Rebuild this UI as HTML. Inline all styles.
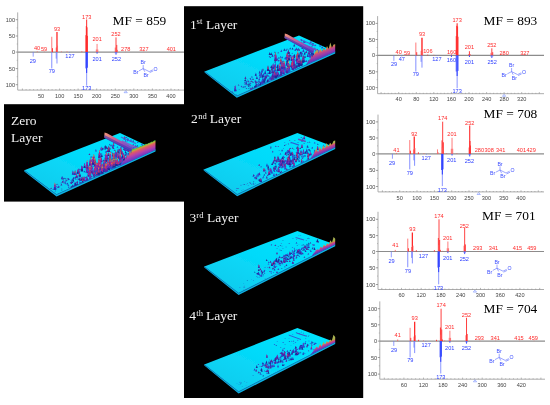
<!DOCTYPE html>
<html><head><meta charset="utf-8"><title>Layer spectra</title>
<style>
html,body{margin:0;padding:0;background:#fff;}
body{width:550px;height:405px;overflow:hidden;}
svg{display:block;}
.ser{font-family:"Liberation Serif",serif;}
.sans{font-family:"Liberation Sans",sans-serif;}
</style></head><body>
<svg width="550" height="405" viewBox="0 0 550 405">
<defs>
<linearGradient id="cy" x1="0" y1="1" x2="1" y2="0">
<stop offset="0" stop-color="#14c8ea"/><stop offset="0.5" stop-color="#04dafa"/><stop offset="1" stop-color="#00e6ff"/>
</linearGradient>
<linearGradient id="wall" x1="0" y1="0" x2="0" y2="1">
<stop offset="0" stop-color="#58c040"/><stop offset="0.3" stop-color="#e0604a"/><stop offset="0.65" stop-color="#b040b0"/><stop offset="1" stop-color="#5a38c8"/>
</linearGradient>
<linearGradient id="ridge" x1="0" y1="0" x2="0" y2="1">
<stop offset="0" stop-color="#e88a78"/><stop offset="0.4" stop-color="#b050a8"/><stop offset="1" stop-color="#5040c8"/>
</linearGradient>
<filter id="bl" x="-5%" y="-5%" width="110%" height="110%"><feGaussianBlur stdDeviation="0.55"/></filter>
<filter id="bl2" x="-5%" y="-5%" width="110%" height="110%"><feGaussianBlur stdDeviation="0.35"/></filter>
</defs>
<rect x="0" y="0" width="550" height="405" fill="#fff"/>

<rect x="184" y="6.2" width="179.2" height="391.8" fill="#000"/>
<rect x="4" y="104.2" width="181" height="97.4" fill="#000"/>
<g filter="url(#bl2)">
<path d="M17.7 12.4V90.1H184" fill="none" stroke="#a4a4a4" stroke-width="0.9"/>
<path d="M17.7 52.1H184" stroke="#8c8c8c" stroke-width="1.1"/>
<path d="M15.7 19.7H17.7" stroke="#777" stroke-width="0.7"/>
<path d="M15.7 36H17.7" stroke="#777" stroke-width="0.7"/>
<path d="M15.7 52.1H17.7" stroke="#777" stroke-width="0.7"/>
<path d="M15.7 68.6H17.7" stroke="#777" stroke-width="0.7"/>
<path d="M15.7 84.7H17.7" stroke="#777" stroke-width="0.7"/>
<path d="M16.7 27.9H17.7" stroke="#999" stroke-width="0.6"/>
<path d="M16.7 44.0H17.7" stroke="#999" stroke-width="0.6"/>
<path d="M16.7 60.3H17.7" stroke="#999" stroke-width="0.6"/>
<path d="M16.7 76.7H17.7" stroke="#999" stroke-width="0.6"/>
<path d="M22.4 90.1v-1.6" stroke="#888" stroke-width="0.6"/>
<path d="M26.1 90.1v-0.9" stroke="#888" stroke-width="0.6"/>
<path d="M29.9 90.1v-0.9" stroke="#888" stroke-width="0.6"/>
<path d="M33.6 90.1v-0.9" stroke="#888" stroke-width="0.6"/>
<path d="M37.3 90.1v-0.9" stroke="#888" stroke-width="0.6"/>
<path d="M41.0 90.1v-1.6" stroke="#888" stroke-width="0.6"/>
<path d="M44.7 90.1v-0.9" stroke="#888" stroke-width="0.6"/>
<path d="M48.4 90.1v-0.9" stroke="#888" stroke-width="0.6"/>
<path d="M52.1 90.1v-0.9" stroke="#888" stroke-width="0.6"/>
<path d="M55.9 90.1v-0.9" stroke="#888" stroke-width="0.6"/>
<path d="M59.6 90.1v-1.6" stroke="#888" stroke-width="0.6"/>
<path d="M63.3 90.1v-0.9" stroke="#888" stroke-width="0.6"/>
<path d="M67.0 90.1v-0.9" stroke="#888" stroke-width="0.6"/>
<path d="M70.7 90.1v-0.9" stroke="#888" stroke-width="0.6"/>
<path d="M74.4 90.1v-0.9" stroke="#888" stroke-width="0.6"/>
<path d="M78.1 90.1v-1.6" stroke="#888" stroke-width="0.6"/>
<path d="M81.8 90.1v-0.9" stroke="#888" stroke-width="0.6"/>
<path d="M85.6 90.1v-0.9" stroke="#888" stroke-width="0.6"/>
<path d="M89.3 90.1v-0.9" stroke="#888" stroke-width="0.6"/>
<path d="M93.0 90.1v-0.9" stroke="#888" stroke-width="0.6"/>
<path d="M96.7 90.1v-1.6" stroke="#888" stroke-width="0.6"/>
<path d="M100.4 90.1v-0.9" stroke="#888" stroke-width="0.6"/>
<path d="M104.1 90.1v-0.9" stroke="#888" stroke-width="0.6"/>
<path d="M107.8 90.1v-0.9" stroke="#888" stroke-width="0.6"/>
<path d="M111.5 90.1v-0.9" stroke="#888" stroke-width="0.6"/>
<path d="M115.3 90.1v-1.6" stroke="#888" stroke-width="0.6"/>
<path d="M119.0 90.1v-0.9" stroke="#888" stroke-width="0.6"/>
<path d="M122.7 90.1v-0.9" stroke="#888" stroke-width="0.6"/>
<path d="M126.4 90.1v-0.9" stroke="#888" stroke-width="0.6"/>
<path d="M130.1 90.1v-0.9" stroke="#888" stroke-width="0.6"/>
<path d="M133.8 90.1v-1.6" stroke="#888" stroke-width="0.6"/>
<path d="M137.5 90.1v-0.9" stroke="#888" stroke-width="0.6"/>
<path d="M141.3 90.1v-0.9" stroke="#888" stroke-width="0.6"/>
<path d="M145.0 90.1v-0.9" stroke="#888" stroke-width="0.6"/>
<path d="M148.7 90.1v-0.9" stroke="#888" stroke-width="0.6"/>
<path d="M152.4 90.1v-1.6" stroke="#888" stroke-width="0.6"/>
<path d="M156.1 90.1v-0.9" stroke="#888" stroke-width="0.6"/>
<path d="M159.8 90.1v-0.9" stroke="#888" stroke-width="0.6"/>
<path d="M163.5 90.1v-0.9" stroke="#888" stroke-width="0.6"/>
<path d="M167.2 90.1v-0.9" stroke="#888" stroke-width="0.6"/>
<path d="M171.0 90.1v-1.6" stroke="#888" stroke-width="0.6"/>
<path d="M174.7 90.1v-0.9" stroke="#888" stroke-width="0.6"/>
<path d="M178.4 90.1v-0.9" stroke="#888" stroke-width="0.6"/>
<path d="M51.77 52.1V36.78" stroke="#ff5a5a" stroke-width="0.8"/>
<path d="M52.51 52.1V48.19" stroke="#ff2a2a" stroke-width="0.9"/>
<path d="M56.22 52.1V47.54" stroke="#ff5a5a" stroke-width="0.8"/>
<path d="M56.97 52.1V31.89" stroke="#ff2a2a" stroke-width="1.3"/>
<path d="M57.52 52.1V45.58" stroke="#ff5a5a" stroke-width="0.8"/>
<path d="M85.93 52.1V35.15" stroke="#ff2a2a" stroke-width="0.9"/>
<path d="M86.67 52.1V19.50" stroke="#ff2a2a" stroke-width="1.0"/>
<path d="M87.41 52.1V35.80" stroke="#ff2a2a" stroke-width="0.9"/>
<path d="M86.30 52.1V26.02" stroke="#ff2a2a" stroke-width="0.9"/>
<path d="M87.04 52.1V27.32" stroke="#ff2a2a" stroke-width="0.9"/>
<path d="M97.07 52.1V43.95" stroke="#ff5a5a" stroke-width="0.8"/>
<path d="M96.32 52.1V49.49" stroke="#ff5a5a" stroke-width="0.8"/>
<path d="M97.81 52.1V49.49" stroke="#ff5a5a" stroke-width="0.8"/>
<path d="M115.26 52.1V47.54" stroke="#ff5a5a" stroke-width="0.8"/>
<path d="M116.00 52.1V37.43" stroke="#ff2a2a" stroke-width="0.9"/>
<path d="M116.75 52.1V44.93" stroke="#ff2a2a" stroke-width="0.9"/>
<path d="M117.49 52.1V49.82" stroke="#ff5a5a" stroke-width="0.8"/>
<path d="M37.29 52.1V51.45" stroke="#ff5a5a" stroke-width="0.8"/>
<path d="M44.34 52.1V51.61" stroke="#ff5a5a" stroke-width="0.8"/>
<path d="M61.42 52.1V51.45" stroke="#ff5a5a" stroke-width="0.8"/>
<path d="M66.99 52.1V51.45" stroke="#ff5a5a" stroke-width="0.8"/>
<path d="M81.84 52.1V51.12" stroke="#ff5a5a" stroke-width="0.8"/>
<path d="M125.66 52.1V51.77" stroke="#ff5a5a" stroke-width="0.8"/>
<path d="M143.85 52.1V51.77" stroke="#ff5a5a" stroke-width="0.8"/>
<path d="M171.33 52.1V51.77" stroke="#ff5a5a" stroke-width="0.8"/>
<path d="M33.20 52.1V56.66" stroke="#6474ff" stroke-width="0.7"/>
<path d="M51.77 52.1V68.40" stroke="#6474ff" stroke-width="0.8"/>
<path d="M56.22 52.1V58.62" stroke="#6474ff" stroke-width="0.8"/>
<path d="M56.97 52.1V63.51" stroke="#6474ff" stroke-width="0.8"/>
<path d="M85.93 52.1V68.40" stroke="#2a3cff" stroke-width="0.9"/>
<path d="M86.67 52.1V85.68" stroke="#6474ff" stroke-width="0.75"/>
<path d="M87.41 52.1V67.75" stroke="#2a3cff" stroke-width="0.9"/>
<path d="M86.67 52.1V72.96" stroke="#2a3cff" stroke-width="1.0"/>
<path d="M69.59 52.1V52.75" stroke="#6474ff" stroke-width="0.8"/>
<path d="M97.07 52.1V53.73" stroke="#2a3cff" stroke-width="0.9"/>
<path d="M116.00 52.1V54.71" stroke="#2a3cff" stroke-width="0.9"/>
<path d="M115.26 52.1V53.40" stroke="#6474ff" stroke-width="0.8"/>
<path d="M116.75 52.1V53.40" stroke="#6474ff" stroke-width="0.8"/>
<path d="M124.1 92.69999999999999L125.7 90.69999999999999L127.3 92.69999999999999Z" fill="none" stroke="#5a78ff" stroke-width="0.5"/>
</g>
<g class="sans" font-size="5.6" text-anchor="middle" filter="url(#bl2)">
<text x="15.1" y="21.7" text-anchor="end" fill="#444">100</text>
<text x="15.1" y="38.0" text-anchor="end" fill="#444">50</text>
<text x="15.1" y="54.1" text-anchor="end" fill="#444">0</text>
<text x="15.1" y="70.6" text-anchor="end" fill="#444">50</text>
<text x="15.1" y="86.7" text-anchor="end" fill="#444">100</text>
<text x="41.0" y="98.1" fill="#444">50</text>
<text x="59.6" y="98.1" fill="#444">100</text>
<text x="78.1" y="98.1" fill="#444">150</text>
<text x="96.7" y="98.1" fill="#444">200</text>
<text x="115.3" y="98.1" fill="#444">250</text>
<text x="133.8" y="98.1" fill="#444">300</text>
<text x="152.4" y="98.1" fill="#444">350</text>
<text x="171.0" y="98.1" fill="#444">400</text>
<text x="37.1" y="50.3" fill="#ff2a2a">40</text>
<text x="44.0" y="51.0" fill="#ff2a2a">59</text>
<text x="57.0" y="30.5" fill="#ff2a2a">93</text>
<text x="86.7" y="18.5" fill="#ff2a2a">173</text>
<text x="97.1" y="41.3" fill="#ff2a2a">201</text>
<text x="116.0" y="36.4" fill="#ff2a2a">252</text>
<text x="125.7" y="51.0" fill="#ff2a2a">278</text>
<text x="143.9" y="51.0" fill="#ff2a2a">327</text>
<text x="171.3" y="51.0" fill="#ff2a2a">401</text>
<text x="32.8" y="62.7" fill="#2a3cff">29</text>
<text x="51.8" y="72.6" fill="#2a3cff">79</text>
<text x="70.0" y="58.1" fill="#2a3cff">127</text>
<text x="86.7" y="90.1" fill="#2a3cff">173</text>
<text x="97.1" y="60.5" fill="#2a3cff">201</text>
<text x="116.4" y="60.5" fill="#2a3cff">252</text>
</g>
<g filter="url(#bl2)"><path d="M143.2 68.6V65.0M143.2 68.6L139.0 70.8M143.2 68.6L144.79999999999998 71.8M143.2 68.6L149.2 71.6L152.79999999999998 69.8M149.7 72.6L153.29999999999998 70.8" fill="none" stroke="#4a5cff" stroke-width="0.55"/>
<g class="sans" font-size="5.2" fill="#3a4cff" text-anchor="middle"><text x="143.2" y="64.19999999999999">Br</text><text x="135.79999999999998" y="73.89999999999999">Br</text><text x="146.0" y="77.0">Br</text><text x="155.6" y="70.6">O</text></g></g>
<text class="ser" x="112.6" y="24.8" font-size="13.4" fill="#000">MF = 859</text>
<g filter="url(#bl2)">
<path d="M377.6 16.1V93.7H544" fill="none" stroke="#a4a4a4" stroke-width="0.9"/>
<path d="M377.6 55.4H544" stroke="#8c8c8c" stroke-width="1.1"/>
<path d="M375.6 23.4H377.6" stroke="#777" stroke-width="0.7"/>
<path d="M375.6 39.5H377.6" stroke="#777" stroke-width="0.7"/>
<path d="M375.6 55.4H377.6" stroke="#777" stroke-width="0.7"/>
<path d="M375.6 71.8H377.6" stroke="#777" stroke-width="0.7"/>
<path d="M375.6 87.6H377.6" stroke="#777" stroke-width="0.7"/>
<path d="M376.6 31.4H377.6" stroke="#999" stroke-width="0.6"/>
<path d="M376.6 47.5H377.6" stroke="#999" stroke-width="0.6"/>
<path d="M376.6 63.6H377.6" stroke="#999" stroke-width="0.6"/>
<path d="M376.6 79.7H377.6" stroke="#999" stroke-width="0.6"/>
<path d="M381.1 93.7v-1.6" stroke="#888" stroke-width="0.6"/>
<path d="M384.6 93.7v-0.9" stroke="#888" stroke-width="0.6"/>
<path d="M388.2 93.7v-0.9" stroke="#888" stroke-width="0.6"/>
<path d="M391.7 93.7v-0.9" stroke="#888" stroke-width="0.6"/>
<path d="M395.2 93.7v-0.9" stroke="#888" stroke-width="0.6"/>
<path d="M398.7 93.7v-1.6" stroke="#888" stroke-width="0.6"/>
<path d="M402.2 93.7v-0.9" stroke="#888" stroke-width="0.6"/>
<path d="M405.7 93.7v-0.9" stroke="#888" stroke-width="0.6"/>
<path d="M409.2 93.7v-0.9" stroke="#888" stroke-width="0.6"/>
<path d="M412.8 93.7v-0.9" stroke="#888" stroke-width="0.6"/>
<path d="M416.3 93.7v-1.6" stroke="#888" stroke-width="0.6"/>
<path d="M419.8 93.7v-0.9" stroke="#888" stroke-width="0.6"/>
<path d="M423.3 93.7v-0.9" stroke="#888" stroke-width="0.6"/>
<path d="M426.8 93.7v-0.9" stroke="#888" stroke-width="0.6"/>
<path d="M430.3 93.7v-0.9" stroke="#888" stroke-width="0.6"/>
<path d="M433.8 93.7v-1.6" stroke="#888" stroke-width="0.6"/>
<path d="M437.4 93.7v-0.9" stroke="#888" stroke-width="0.6"/>
<path d="M440.9 93.7v-0.9" stroke="#888" stroke-width="0.6"/>
<path d="M444.4 93.7v-0.9" stroke="#888" stroke-width="0.6"/>
<path d="M447.9 93.7v-0.9" stroke="#888" stroke-width="0.6"/>
<path d="M451.4 93.7v-1.6" stroke="#888" stroke-width="0.6"/>
<path d="M454.9 93.7v-0.9" stroke="#888" stroke-width="0.6"/>
<path d="M458.4 93.7v-0.9" stroke="#888" stroke-width="0.6"/>
<path d="M462.0 93.7v-0.9" stroke="#888" stroke-width="0.6"/>
<path d="M465.5 93.7v-0.9" stroke="#888" stroke-width="0.6"/>
<path d="M469.0 93.7v-1.6" stroke="#888" stroke-width="0.6"/>
<path d="M472.5 93.7v-0.9" stroke="#888" stroke-width="0.6"/>
<path d="M476.0 93.7v-0.9" stroke="#888" stroke-width="0.6"/>
<path d="M479.5 93.7v-0.9" stroke="#888" stroke-width="0.6"/>
<path d="M483.0 93.7v-0.9" stroke="#888" stroke-width="0.6"/>
<path d="M486.6 93.7v-1.6" stroke="#888" stroke-width="0.6"/>
<path d="M490.1 93.7v-0.9" stroke="#888" stroke-width="0.6"/>
<path d="M493.6 93.7v-0.9" stroke="#888" stroke-width="0.6"/>
<path d="M497.1 93.7v-0.9" stroke="#888" stroke-width="0.6"/>
<path d="M500.6 93.7v-0.9" stroke="#888" stroke-width="0.6"/>
<path d="M504.1 93.7v-1.6" stroke="#888" stroke-width="0.6"/>
<path d="M507.6 93.7v-0.9" stroke="#888" stroke-width="0.6"/>
<path d="M511.2 93.7v-0.9" stroke="#888" stroke-width="0.6"/>
<path d="M514.7 93.7v-0.9" stroke="#888" stroke-width="0.6"/>
<path d="M518.2 93.7v-0.9" stroke="#888" stroke-width="0.6"/>
<path d="M521.7 93.7v-1.6" stroke="#888" stroke-width="0.6"/>
<path d="M525.2 93.7v-0.9" stroke="#888" stroke-width="0.6"/>
<path d="M528.7 93.7v-0.9" stroke="#888" stroke-width="0.6"/>
<path d="M532.2 93.7v-0.9" stroke="#888" stroke-width="0.6"/>
<path d="M535.8 93.7v-0.9" stroke="#888" stroke-width="0.6"/>
<path d="M539.3 93.7v-1.6" stroke="#888" stroke-width="0.6"/>
<path d="M415.83 55.4V42.52" stroke="#ff5a5a" stroke-width="0.8"/>
<path d="M416.71 55.4V52.18" stroke="#ff2a2a" stroke-width="0.9"/>
<path d="M421.10 55.4V50.89" stroke="#ff5a5a" stroke-width="0.8"/>
<path d="M421.98 55.4V37.69" stroke="#ff2a2a" stroke-width="1.4"/>
<path d="M422.64 55.4V49.60" stroke="#ff5a5a" stroke-width="0.8"/>
<path d="M456.25 55.4V36.08" stroke="#ff2a2a" stroke-width="0.9"/>
<path d="M457.13 55.4V23.20" stroke="#ff2a2a" stroke-width="1.1"/>
<path d="M458.01 55.4V36.72" stroke="#ff2a2a" stroke-width="0.9"/>
<path d="M456.69 55.4V25.78" stroke="#ff2a2a" stroke-width="0.9"/>
<path d="M457.57 55.4V26.42" stroke="#ff2a2a" stroke-width="0.9"/>
<path d="M469.43 55.4V51.21" stroke="#ff2a2a" stroke-width="0.9"/>
<path d="M468.55 55.4V54.11" stroke="#ff5a5a" stroke-width="0.8"/>
<path d="M470.31 55.4V54.11" stroke="#ff5a5a" stroke-width="0.8"/>
<path d="M490.95 55.4V52.82" stroke="#ff5a5a" stroke-width="0.8"/>
<path d="M491.83 55.4V48.32" stroke="#ff2a2a" stroke-width="0.9"/>
<path d="M492.71 55.4V52.18" stroke="#ff2a2a" stroke-width="0.9"/>
<path d="M398.70 55.4V54.76" stroke="#ff5a5a" stroke-width="0.8"/>
<path d="M407.05 55.4V54.92" stroke="#ff5a5a" stroke-width="0.8"/>
<path d="M427.69 55.4V54.59" stroke="#ff2a2a" stroke-width="0.9"/>
<path d="M433.84 55.4V54.76" stroke="#ff5a5a" stroke-width="0.8"/>
<path d="M451.42 55.4V54.43" stroke="#ff2a2a" stroke-width="0.9"/>
<path d="M504.13 55.4V55.08" stroke="#ff5a5a" stroke-width="0.8"/>
<path d="M524.78 55.4V55.08" stroke="#ff5a5a" stroke-width="0.8"/>
<path d="M393.87 55.4V60.87" stroke="#6474ff" stroke-width="0.7"/>
<path d="M401.78 55.4V56.37" stroke="#6474ff" stroke-width="0.8"/>
<path d="M415.83 55.4V71.50" stroke="#6474ff" stroke-width="0.8"/>
<path d="M421.10 55.4V61.84" stroke="#6474ff" stroke-width="0.8"/>
<path d="M421.98 55.4V67.64" stroke="#6474ff" stroke-width="0.8"/>
<path d="M456.25 55.4V71.50" stroke="#2a3cff" stroke-width="0.9"/>
<path d="M457.13 55.4V88.24" stroke="#6474ff" stroke-width="0.75"/>
<path d="M458.01 55.4V70.86" stroke="#2a3cff" stroke-width="0.9"/>
<path d="M457.13 55.4V76.01" stroke="#2a3cff" stroke-width="1.0"/>
<path d="M436.92 55.4V56.04" stroke="#6474ff" stroke-width="0.8"/>
<path d="M451.42 55.4V57.01" stroke="#2a3cff" stroke-width="0.9"/>
<path d="M469.43 55.4V57.01" stroke="#2a3cff" stroke-width="0.9"/>
<path d="M491.83 55.4V57.98" stroke="#2a3cff" stroke-width="0.9"/>
<path d="M490.95 55.4V56.69" stroke="#6474ff" stroke-width="0.8"/>
<path d="M492.71 55.4V56.69" stroke="#6474ff" stroke-width="0.8"/>
<path d="M502.5 96.3L504.1 94.3L505.7 96.3Z" fill="none" stroke="#5a78ff" stroke-width="0.5"/>
</g>
<g class="sans" font-size="5.6" text-anchor="middle" filter="url(#bl2)">
<text x="375.0" y="25.4" text-anchor="end" fill="#444">100</text>
<text x="375.0" y="41.5" text-anchor="end" fill="#444">50</text>
<text x="375.0" y="57.4" text-anchor="end" fill="#444">0</text>
<text x="375.0" y="73.8" text-anchor="end" fill="#444">50</text>
<text x="375.0" y="89.6" text-anchor="end" fill="#444">100</text>
<text x="398.7" y="101.0" fill="#444">40</text>
<text x="416.3" y="101.0" fill="#444">80</text>
<text x="433.8" y="101.0" fill="#444">120</text>
<text x="451.4" y="101.0" fill="#444">160</text>
<text x="469.0" y="101.0" fill="#444">200</text>
<text x="486.6" y="101.0" fill="#444">240</text>
<text x="504.1" y="101.0" fill="#444">280</text>
<text x="521.7" y="101.0" fill="#444">320</text>
<text x="398.7" y="54.1" fill="#ff2a2a">40</text>
<text x="407.0" y="54.6" fill="#ff2a2a">59</text>
<text x="422.0" y="36.0" fill="#ff2a2a">93</text>
<text x="427.9" y="53.2" fill="#ff2a2a">106</text>
<text x="451.6" y="53.6" fill="#ff2a2a">160</text>
<text x="457.1" y="21.7" fill="#ff2a2a">173</text>
<text x="469.4" y="49.2" fill="#ff2a2a">201</text>
<text x="491.8" y="46.8" fill="#ff2a2a">252</text>
<text x="504.1" y="54.6" fill="#ff2a2a">280</text>
<text x="524.8" y="54.6" fill="#ff2a2a">327</text>
<text x="394.1" y="66.4" fill="#2a3cff">29</text>
<text x="401.8" y="60.9" fill="#2a3cff">47</text>
<text x="415.8" y="76.1" fill="#2a3cff">79</text>
<text x="436.9" y="61.4" fill="#2a3cff">127</text>
<text x="451.4" y="61.8" fill="#2a3cff">160</text>
<text x="457.1" y="93.4" fill="#2a3cff">173</text>
<text x="469.4" y="64.2" fill="#2a3cff">201</text>
<text x="492.1" y="64.2" fill="#2a3cff">252</text>
</g>
<g filter="url(#bl2)"><path d="M511.6 71.6V68.0M511.6 71.6L507.40000000000003 73.8M511.6 71.6L513.2 74.8M511.6 71.6L517.6 74.6L521.2 72.8M518.1 75.6L521.7 73.8" fill="none" stroke="#4a5cff" stroke-width="0.55"/>
<g class="sans" font-size="5.2" fill="#3a4cff" text-anchor="middle"><text x="511.6" y="67.19999999999999">Br</text><text x="504.20000000000005" y="76.89999999999999">Br</text><text x="514.4" y="80.0">Br</text><text x="524.0" y="73.6">O</text></g></g>
<text class="ser" x="483.6" y="25" font-size="13.4" fill="#000">MF = 893</text>
<g filter="url(#bl2)">
<path d="M378 114.6V191.9H544" fill="none" stroke="#a4a4a4" stroke-width="0.9"/>
<path d="M378 153.9H544" stroke="#8c8c8c" stroke-width="1.1"/>
<path d="M376 121.9H378" stroke="#777" stroke-width="0.7"/>
<path d="M376 138H378" stroke="#777" stroke-width="0.7"/>
<path d="M376 153.9H378" stroke="#777" stroke-width="0.7"/>
<path d="M376 170.4H378" stroke="#777" stroke-width="0.7"/>
<path d="M376 186.5H378" stroke="#777" stroke-width="0.7"/>
<path d="M377 129.9H378" stroke="#999" stroke-width="0.6"/>
<path d="M377 145.9H378" stroke="#999" stroke-width="0.6"/>
<path d="M377 162.2H378" stroke="#999" stroke-width="0.6"/>
<path d="M377 178.4H378" stroke="#999" stroke-width="0.6"/>
<path d="M382.4 191.9v-1.6" stroke="#888" stroke-width="0.6"/>
<path d="M385.8 191.9v-0.9" stroke="#888" stroke-width="0.6"/>
<path d="M389.3 191.9v-0.9" stroke="#888" stroke-width="0.6"/>
<path d="M392.8 191.9v-0.9" stroke="#888" stroke-width="0.6"/>
<path d="M396.2 191.9v-0.9" stroke="#888" stroke-width="0.6"/>
<path d="M399.7 191.9v-1.6" stroke="#888" stroke-width="0.6"/>
<path d="M403.2 191.9v-0.9" stroke="#888" stroke-width="0.6"/>
<path d="M406.6 191.9v-0.9" stroke="#888" stroke-width="0.6"/>
<path d="M410.1 191.9v-0.9" stroke="#888" stroke-width="0.6"/>
<path d="M413.6 191.9v-0.9" stroke="#888" stroke-width="0.6"/>
<path d="M417.0 191.9v-1.6" stroke="#888" stroke-width="0.6"/>
<path d="M420.5 191.9v-0.9" stroke="#888" stroke-width="0.6"/>
<path d="M424.0 191.9v-0.9" stroke="#888" stroke-width="0.6"/>
<path d="M427.4 191.9v-0.9" stroke="#888" stroke-width="0.6"/>
<path d="M430.9 191.9v-0.9" stroke="#888" stroke-width="0.6"/>
<path d="M434.4 191.9v-1.6" stroke="#888" stroke-width="0.6"/>
<path d="M437.8 191.9v-0.9" stroke="#888" stroke-width="0.6"/>
<path d="M441.3 191.9v-0.9" stroke="#888" stroke-width="0.6"/>
<path d="M444.8 191.9v-0.9" stroke="#888" stroke-width="0.6"/>
<path d="M448.2 191.9v-0.9" stroke="#888" stroke-width="0.6"/>
<path d="M451.7 191.9v-1.6" stroke="#888" stroke-width="0.6"/>
<path d="M455.2 191.9v-0.9" stroke="#888" stroke-width="0.6"/>
<path d="M458.6 191.9v-0.9" stroke="#888" stroke-width="0.6"/>
<path d="M462.1 191.9v-0.9" stroke="#888" stroke-width="0.6"/>
<path d="M465.6 191.9v-0.9" stroke="#888" stroke-width="0.6"/>
<path d="M469.0 191.9v-1.6" stroke="#888" stroke-width="0.6"/>
<path d="M472.5 191.9v-0.9" stroke="#888" stroke-width="0.6"/>
<path d="M476.0 191.9v-0.9" stroke="#888" stroke-width="0.6"/>
<path d="M479.4 191.9v-0.9" stroke="#888" stroke-width="0.6"/>
<path d="M482.9 191.9v-0.9" stroke="#888" stroke-width="0.6"/>
<path d="M486.4 191.9v-1.6" stroke="#888" stroke-width="0.6"/>
<path d="M489.8 191.9v-0.9" stroke="#888" stroke-width="0.6"/>
<path d="M493.3 191.9v-0.9" stroke="#888" stroke-width="0.6"/>
<path d="M496.7 191.9v-0.9" stroke="#888" stroke-width="0.6"/>
<path d="M500.2 191.9v-0.9" stroke="#888" stroke-width="0.6"/>
<path d="M503.7 191.9v-1.6" stroke="#888" stroke-width="0.6"/>
<path d="M507.1 191.9v-0.9" stroke="#888" stroke-width="0.6"/>
<path d="M510.6 191.9v-0.9" stroke="#888" stroke-width="0.6"/>
<path d="M514.1 191.9v-0.9" stroke="#888" stroke-width="0.6"/>
<path d="M517.5 191.9v-0.9" stroke="#888" stroke-width="0.6"/>
<path d="M521.0 191.9v-1.6" stroke="#888" stroke-width="0.6"/>
<path d="M524.5 191.9v-0.9" stroke="#888" stroke-width="0.6"/>
<path d="M527.9 191.9v-0.9" stroke="#888" stroke-width="0.6"/>
<path d="M531.4 191.9v-0.9" stroke="#888" stroke-width="0.6"/>
<path d="M534.9 191.9v-0.9" stroke="#888" stroke-width="0.6"/>
<path d="M538.3 191.9v-1.6" stroke="#888" stroke-width="0.6"/>
<path d="M541.8 191.9v-0.9" stroke="#888" stroke-width="0.6"/>
<path d="M409.75 153.9V140.05" stroke="#ff5a5a" stroke-width="0.8"/>
<path d="M410.44 153.9V150.68" stroke="#ff2a2a" stroke-width="0.9"/>
<path d="M413.74 153.9V149.39" stroke="#ff5a5a" stroke-width="0.8"/>
<path d="M414.26 153.9V136.51" stroke="#ff2a2a" stroke-width="1.3"/>
<path d="M414.95 153.9V148.10" stroke="#ff5a5a" stroke-width="0.8"/>
<path d="M441.99 153.9V140.38" stroke="#ff2a2a" stroke-width="0.9"/>
<path d="M442.68 153.9V121.70" stroke="#ff2a2a" stroke-width="0.9"/>
<path d="M443.37 153.9V142.31" stroke="#ff2a2a" stroke-width="0.9"/>
<path d="M442.33 153.9V147.46" stroke="#ff5a5a" stroke-width="0.8"/>
<path d="M452.04 153.9V137.80" stroke="#ff5a5a" stroke-width="0.8"/>
<path d="M451.34 153.9V148.75" stroke="#ff5a5a" stroke-width="0.8"/>
<path d="M452.73 153.9V148.75" stroke="#ff5a5a" stroke-width="0.8"/>
<path d="M469.02 153.9V147.46" stroke="#ff5a5a" stroke-width="0.8"/>
<path d="M469.71 153.9V125.56" stroke="#ff2a2a" stroke-width="1.1"/>
<path d="M470.06 153.9V141.02" stroke="#ff2a2a" stroke-width="0.9"/>
<path d="M470.41 153.9V145.53" stroke="#ff2a2a" stroke-width="0.9"/>
<path d="M396.58 153.9V152.93" stroke="#ff5a5a" stroke-width="0.8"/>
<path d="M418.42 153.9V152.29" stroke="#ff2a2a" stroke-width="0.9"/>
<path d="M423.96 153.9V153.26" stroke="#ff5a5a" stroke-width="0.8"/>
<path d="M437.48 153.9V149.39" stroke="#ff5a5a" stroke-width="0.8"/>
<path d="M438.17 153.9V152.29" stroke="#ff5a5a" stroke-width="0.8"/>
<path d="M446.49 153.9V153.26" stroke="#ff5a5a" stroke-width="0.8"/>
<path d="M456.89 153.9V153.26" stroke="#ff5a5a" stroke-width="0.8"/>
<path d="M479.42 153.9V153.58" stroke="#ff5a5a" stroke-width="0.8"/>
<path d="M489.12 153.9V153.58" stroke="#ff5a5a" stroke-width="0.8"/>
<path d="M500.56 153.9V153.58" stroke="#ff5a5a" stroke-width="0.8"/>
<path d="M521.36 153.9V153.58" stroke="#ff5a5a" stroke-width="0.8"/>
<path d="M531.06 153.9V153.58" stroke="#ff5a5a" stroke-width="0.8"/>
<path d="M392.42 153.9V158.73" stroke="#6474ff" stroke-width="0.7"/>
<path d="M409.75 153.9V169.36" stroke="#6474ff" stroke-width="0.8"/>
<path d="M413.91 153.9V160.34" stroke="#6474ff" stroke-width="0.8"/>
<path d="M414.60 153.9V165.81" stroke="#6474ff" stroke-width="0.8"/>
<path d="M441.64 153.9V170.00" stroke="#2a3cff" stroke-width="0.9"/>
<path d="M442.33 153.9V186.10" stroke="#6474ff" stroke-width="0.75"/>
<path d="M443.02 153.9V169.36" stroke="#2a3cff" stroke-width="0.9"/>
<path d="M442.33 153.9V174.51" stroke="#2a3cff" stroke-width="1.0"/>
<path d="M426.39 153.9V154.54" stroke="#6474ff" stroke-width="0.8"/>
<path d="M452.04 153.9V155.51" stroke="#2a3cff" stroke-width="0.9"/>
<path d="M469.71 153.9V156.48" stroke="#2a3cff" stroke-width="0.9"/>
<path d="M469.02 153.9V155.19" stroke="#6474ff" stroke-width="0.8"/>
<path d="M470.41 153.9V155.19" stroke="#6474ff" stroke-width="0.8"/>
<path d="M477.1 194.5L478.7 192.5L480.3 194.5Z" fill="none" stroke="#5a78ff" stroke-width="0.5"/>
</g>
<g class="sans" font-size="5.6" text-anchor="middle" filter="url(#bl2)">
<text x="375.4" y="123.9" text-anchor="end" fill="#444">100</text>
<text x="375.4" y="140.0" text-anchor="end" fill="#444">50</text>
<text x="375.4" y="155.9" text-anchor="end" fill="#444">0</text>
<text x="375.4" y="172.4" text-anchor="end" fill="#444">50</text>
<text x="375.4" y="188.5" text-anchor="end" fill="#444">100</text>
<text x="399.7" y="200.1" fill="#444">50</text>
<text x="417.0" y="200.1" fill="#444">100</text>
<text x="434.4" y="200.1" fill="#444">150</text>
<text x="451.7" y="200.1" fill="#444">200</text>
<text x="469.0" y="200.1" fill="#444">250</text>
<text x="486.4" y="200.1" fill="#444">300</text>
<text x="503.7" y="200.1" fill="#444">350</text>
<text x="521.0" y="200.1" fill="#444">400</text>
<text x="396.4" y="151.7" fill="#ff2a2a">41</text>
<text x="414.3" y="135.8" fill="#ff2a2a">92</text>
<text x="442.7" y="120.3" fill="#ff2a2a">174</text>
<text x="452.0" y="135.8" fill="#ff2a2a">201</text>
<text x="469.7" y="125.2" fill="#ff2a2a">252</text>
<text x="479.4" y="152.3" fill="#ff2a2a">280</text>
<text x="489.1" y="152.3" fill="#ff2a2a">308</text>
<text x="500.6" y="152.3" fill="#ff2a2a">341</text>
<text x="521.4" y="152.3" fill="#ff2a2a">401</text>
<text x="531.1" y="152.3" fill="#ff2a2a">429</text>
<text x="392.1" y="164.6" fill="#2a3cff">29</text>
<text x="409.8" y="174.8" fill="#2a3cff">79</text>
<text x="426.2" y="160.1" fill="#2a3cff">127</text>
<text x="442.3" y="191.5" fill="#2a3cff">173</text>
<text x="451.7" y="162.1" fill="#2a3cff">201</text>
<text x="469.4" y="162.8" fill="#2a3cff">252</text>
</g>
<g filter="url(#bl2)"><path d="M500 170V166.4M500 170L495.8 172.2M500 170L501.6 173.2M500 170L506.0 173.0L509.6 171.2M506.5 174.0L510.1 172.2" fill="none" stroke="#4a5cff" stroke-width="0.55"/>
<g class="sans" font-size="5.2" fill="#3a4cff" text-anchor="middle"><text x="500" y="165.6">Br</text><text x="492.6" y="175.3">Br</text><text x="502.8" y="178.4">Br</text><text x="512.4" y="172.0">O</text></g></g>
<text class="ser" x="483.6" y="117.8" font-size="13.4" fill="#000">MF = 708</text>
<g filter="url(#bl2)">
<path d="M378 211.8V289.5H544" fill="none" stroke="#a4a4a4" stroke-width="0.9"/>
<path d="M378 251.5H544" stroke="#8c8c8c" stroke-width="1.1"/>
<path d="M376 219.3H378" stroke="#777" stroke-width="0.7"/>
<path d="M376 235.6H378" stroke="#777" stroke-width="0.7"/>
<path d="M376 251.5H378" stroke="#777" stroke-width="0.7"/>
<path d="M376 267.8H378" stroke="#777" stroke-width="0.7"/>
<path d="M376 284.5H378" stroke="#777" stroke-width="0.7"/>
<path d="M377 227.4H378" stroke="#999" stroke-width="0.6"/>
<path d="M377 243.6H378" stroke="#999" stroke-width="0.6"/>
<path d="M377 259.6H378" stroke="#999" stroke-width="0.6"/>
<path d="M377 276.1H378" stroke="#999" stroke-width="0.6"/>
<path d="M381.8 289.5v-1.6" stroke="#888" stroke-width="0.6"/>
<path d="M385.7 289.5v-0.9" stroke="#888" stroke-width="0.6"/>
<path d="M389.7 289.5v-0.9" stroke="#888" stroke-width="0.6"/>
<path d="M393.6 289.5v-0.9" stroke="#888" stroke-width="0.6"/>
<path d="M397.6 289.5v-0.9" stroke="#888" stroke-width="0.6"/>
<path d="M401.5 289.5v-1.6" stroke="#888" stroke-width="0.6"/>
<path d="M405.4 289.5v-0.9" stroke="#888" stroke-width="0.6"/>
<path d="M409.4 289.5v-0.9" stroke="#888" stroke-width="0.6"/>
<path d="M413.3 289.5v-0.9" stroke="#888" stroke-width="0.6"/>
<path d="M417.3 289.5v-0.9" stroke="#888" stroke-width="0.6"/>
<path d="M421.2 289.5v-1.6" stroke="#888" stroke-width="0.6"/>
<path d="M425.2 289.5v-0.9" stroke="#888" stroke-width="0.6"/>
<path d="M429.1 289.5v-0.9" stroke="#888" stroke-width="0.6"/>
<path d="M433.1 289.5v-0.9" stroke="#888" stroke-width="0.6"/>
<path d="M437.0 289.5v-0.9" stroke="#888" stroke-width="0.6"/>
<path d="M441.0 289.5v-1.6" stroke="#888" stroke-width="0.6"/>
<path d="M444.9 289.5v-0.9" stroke="#888" stroke-width="0.6"/>
<path d="M448.9 289.5v-0.9" stroke="#888" stroke-width="0.6"/>
<path d="M452.8 289.5v-0.9" stroke="#888" stroke-width="0.6"/>
<path d="M456.8 289.5v-0.9" stroke="#888" stroke-width="0.6"/>
<path d="M460.7 289.5v-1.6" stroke="#888" stroke-width="0.6"/>
<path d="M464.7 289.5v-0.9" stroke="#888" stroke-width="0.6"/>
<path d="M468.6 289.5v-0.9" stroke="#888" stroke-width="0.6"/>
<path d="M472.6 289.5v-0.9" stroke="#888" stroke-width="0.6"/>
<path d="M476.5 289.5v-0.9" stroke="#888" stroke-width="0.6"/>
<path d="M480.5 289.5v-1.6" stroke="#888" stroke-width="0.6"/>
<path d="M484.4 289.5v-0.9" stroke="#888" stroke-width="0.6"/>
<path d="M488.4 289.5v-0.9" stroke="#888" stroke-width="0.6"/>
<path d="M492.3 289.5v-0.9" stroke="#888" stroke-width="0.6"/>
<path d="M496.3 289.5v-0.9" stroke="#888" stroke-width="0.6"/>
<path d="M500.2 289.5v-1.6" stroke="#888" stroke-width="0.6"/>
<path d="M504.1 289.5v-0.9" stroke="#888" stroke-width="0.6"/>
<path d="M508.1 289.5v-0.9" stroke="#888" stroke-width="0.6"/>
<path d="M512.0 289.5v-0.9" stroke="#888" stroke-width="0.6"/>
<path d="M516.0 289.5v-0.9" stroke="#888" stroke-width="0.6"/>
<path d="M519.9 289.5v-1.6" stroke="#888" stroke-width="0.6"/>
<path d="M523.9 289.5v-0.9" stroke="#888" stroke-width="0.6"/>
<path d="M527.8 289.5v-0.9" stroke="#888" stroke-width="0.6"/>
<path d="M531.8 289.5v-0.9" stroke="#888" stroke-width="0.6"/>
<path d="M535.7 289.5v-0.9" stroke="#888" stroke-width="0.6"/>
<path d="M539.7 289.5v-1.6" stroke="#888" stroke-width="0.6"/>
<path d="M407.75 251.5V238.62" stroke="#ff5a5a" stroke-width="0.8"/>
<path d="M408.41 251.5V248.28" stroke="#ff2a2a" stroke-width="0.9"/>
<path d="M411.70 251.5V246.99" stroke="#ff5a5a" stroke-width="0.8"/>
<path d="M412.36 251.5V232.50" stroke="#ff2a2a" stroke-width="1.3"/>
<path d="M413.01 251.5V245.70" stroke="#ff5a5a" stroke-width="0.8"/>
<path d="M438.35 251.5V237.98" stroke="#ff2a2a" stroke-width="0.9"/>
<path d="M439.01 251.5V219.30" stroke="#ff2a2a" stroke-width="0.9"/>
<path d="M439.66 251.5V239.91" stroke="#ff2a2a" stroke-width="0.9"/>
<path d="M438.68 251.5V245.06" stroke="#ff5a5a" stroke-width="0.8"/>
<path d="M440.32 251.5V249.89" stroke="#ff2a2a" stroke-width="0.9"/>
<path d="M447.89 251.5V241.52" stroke="#ff5a5a" stroke-width="0.8"/>
<path d="M447.23 251.5V248.28" stroke="#ff5a5a" stroke-width="0.8"/>
<path d="M448.55 251.5V248.28" stroke="#ff5a5a" stroke-width="0.8"/>
<path d="M464.01 251.5V245.70" stroke="#ff5a5a" stroke-width="0.8"/>
<path d="M464.67 251.5V227.99" stroke="#ff2a2a" stroke-width="0.9"/>
<path d="M465.33 251.5V244.42" stroke="#ff2a2a" stroke-width="0.9"/>
<path d="M395.25 251.5V249.89" stroke="#ff5a5a" stroke-width="0.8"/>
<path d="M416.31 251.5V250.21" stroke="#ff2a2a" stroke-width="0.9"/>
<path d="M421.24 251.5V250.86" stroke="#ff5a5a" stroke-width="0.8"/>
<path d="M434.40 251.5V250.21" stroke="#ff2a2a" stroke-width="0.9"/>
<path d="M442.62 251.5V250.86" stroke="#ff5a5a" stroke-width="0.8"/>
<path d="M478.16 251.5V251.18" stroke="#ff5a5a" stroke-width="0.8"/>
<path d="M493.95 251.5V251.18" stroke="#ff5a5a" stroke-width="0.8"/>
<path d="M518.29 251.5V251.18" stroke="#ff5a5a" stroke-width="0.8"/>
<path d="M532.77 251.5V251.18" stroke="#ff5a5a" stroke-width="0.8"/>
<path d="M391.30 251.5V257.30" stroke="#6474ff" stroke-width="0.7"/>
<path d="M407.75 251.5V267.28" stroke="#6474ff" stroke-width="0.8"/>
<path d="M411.70 251.5V257.94" stroke="#6474ff" stroke-width="0.8"/>
<path d="M412.36 251.5V263.41" stroke="#6474ff" stroke-width="0.8"/>
<path d="M438.02 251.5V267.60" stroke="#2a3cff" stroke-width="0.9"/>
<path d="M438.68 251.5V284.34" stroke="#6474ff" stroke-width="0.75"/>
<path d="M439.33 251.5V266.96" stroke="#2a3cff" stroke-width="0.9"/>
<path d="M438.68 251.5V272.11" stroke="#2a3cff" stroke-width="1.0"/>
<path d="M423.54 251.5V252.14" stroke="#6474ff" stroke-width="0.8"/>
<path d="M447.89 251.5V253.11" stroke="#2a3cff" stroke-width="0.9"/>
<path d="M464.67 251.5V254.08" stroke="#2a3cff" stroke-width="0.9"/>
<path d="M464.01 251.5V252.79" stroke="#6474ff" stroke-width="0.8"/>
<path d="M465.33 251.5V252.79" stroke="#6474ff" stroke-width="0.8"/>
<path d="M473.3 292.1L474.9 290.1L476.5 292.1Z" fill="none" stroke="#5a78ff" stroke-width="0.5"/>
</g>
<g class="sans" font-size="5.6" text-anchor="middle" filter="url(#bl2)">
<text x="375.4" y="221.3" text-anchor="end" fill="#444">100</text>
<text x="375.4" y="237.6" text-anchor="end" fill="#444">50</text>
<text x="375.4" y="253.5" text-anchor="end" fill="#444">0</text>
<text x="375.4" y="269.8" text-anchor="end" fill="#444">50</text>
<text x="375.4" y="286.5" text-anchor="end" fill="#444">100</text>
<text x="401.5" y="297.4" fill="#444">60</text>
<text x="421.2" y="297.4" fill="#444">120</text>
<text x="441.0" y="297.4" fill="#444">180</text>
<text x="460.7" y="297.4" fill="#444">240</text>
<text x="480.5" y="297.4" fill="#444">300</text>
<text x="500.2" y="297.4" fill="#444">360</text>
<text x="519.9" y="297.4" fill="#444">420</text>
<text x="395.4" y="247.3" fill="#ff2a2a">41</text>
<text x="412.4" y="230.8" fill="#ff2a2a">93</text>
<text x="439.0" y="218.0" fill="#ff2a2a">174</text>
<text x="447.7" y="240.0" fill="#ff2a2a">201</text>
<text x="464.3" y="228.1" fill="#ff2a2a">252</text>
<text x="477.7" y="250.4" fill="#ff2a2a">293</text>
<text x="493.5" y="250.4" fill="#ff2a2a">341</text>
<text x="517.5" y="250.4" fill="#ff2a2a">415</text>
<text x="531.8" y="250.4" fill="#ff2a2a">459</text>
<text x="391.5" y="262.5" fill="#2a3cff">29</text>
<text x="407.9" y="272.8" fill="#2a3cff">79</text>
<text x="423.5" y="257.9" fill="#2a3cff">127</text>
<text x="438.5" y="290.1" fill="#2a3cff">173</text>
<text x="447.7" y="260.1" fill="#2a3cff">201</text>
<text x="464.3" y="260.6" fill="#2a3cff">252</text>
</g>
<g filter="url(#bl2)"><path d="M497 268.2V264.59999999999997M497 268.2L492.8 270.4M497 268.2L498.6 271.4M497 268.2L503.0 271.2L506.6 269.4M503.5 272.2L507.1 270.4" fill="none" stroke="#4a5cff" stroke-width="0.55"/>
<g class="sans" font-size="5.2" fill="#3a4cff" text-anchor="middle"><text x="497" y="263.8">Br</text><text x="489.6" y="273.5">Br</text><text x="499.8" y="276.59999999999997">Br</text><text x="509.4" y="270.2">O</text></g></g>
<text class="ser" x="482" y="220.1" font-size="13.4" fill="#000">MF = 701</text>
<g filter="url(#bl2)">
<path d="M379.8 301.4V379.2H545" fill="none" stroke="#a4a4a4" stroke-width="0.9"/>
<path d="M379.8 341.1H545" stroke="#8c8c8c" stroke-width="1.1"/>
<path d="M377.8 308.7H379.8" stroke="#777" stroke-width="0.7"/>
<path d="M377.8 324.8H379.8" stroke="#777" stroke-width="0.7"/>
<path d="M377.8 341.1H379.8" stroke="#777" stroke-width="0.7"/>
<path d="M377.8 357.5H379.8" stroke="#777" stroke-width="0.7"/>
<path d="M377.8 374.1H379.8" stroke="#777" stroke-width="0.7"/>
<path d="M378.8 316.8H379.8" stroke="#999" stroke-width="0.6"/>
<path d="M378.8 333.0H379.8" stroke="#999" stroke-width="0.6"/>
<path d="M378.8 349.3H379.8" stroke="#999" stroke-width="0.6"/>
<path d="M378.8 365.8H379.8" stroke="#999" stroke-width="0.6"/>
<path d="M384.3 379.2v-1.6" stroke="#888" stroke-width="0.6"/>
<path d="M388.2 379.2v-0.9" stroke="#888" stroke-width="0.6"/>
<path d="M392.2 379.2v-0.9" stroke="#888" stroke-width="0.6"/>
<path d="M396.1 379.2v-0.9" stroke="#888" stroke-width="0.6"/>
<path d="M400.0 379.2v-0.9" stroke="#888" stroke-width="0.6"/>
<path d="M403.9 379.2v-1.6" stroke="#888" stroke-width="0.6"/>
<path d="M407.8 379.2v-0.9" stroke="#888" stroke-width="0.6"/>
<path d="M411.7 379.2v-0.9" stroke="#888" stroke-width="0.6"/>
<path d="M415.6 379.2v-0.9" stroke="#888" stroke-width="0.6"/>
<path d="M419.6 379.2v-0.9" stroke="#888" stroke-width="0.6"/>
<path d="M423.5 379.2v-1.6" stroke="#888" stroke-width="0.6"/>
<path d="M427.4 379.2v-0.9" stroke="#888" stroke-width="0.6"/>
<path d="M431.3 379.2v-0.9" stroke="#888" stroke-width="0.6"/>
<path d="M435.2 379.2v-0.9" stroke="#888" stroke-width="0.6"/>
<path d="M439.1 379.2v-0.9" stroke="#888" stroke-width="0.6"/>
<path d="M443.0 379.2v-1.6" stroke="#888" stroke-width="0.6"/>
<path d="M447.0 379.2v-0.9" stroke="#888" stroke-width="0.6"/>
<path d="M450.9 379.2v-0.9" stroke="#888" stroke-width="0.6"/>
<path d="M454.8 379.2v-0.9" stroke="#888" stroke-width="0.6"/>
<path d="M458.7 379.2v-0.9" stroke="#888" stroke-width="0.6"/>
<path d="M462.6 379.2v-1.6" stroke="#888" stroke-width="0.6"/>
<path d="M466.5 379.2v-0.9" stroke="#888" stroke-width="0.6"/>
<path d="M470.4 379.2v-0.9" stroke="#888" stroke-width="0.6"/>
<path d="M474.4 379.2v-0.9" stroke="#888" stroke-width="0.6"/>
<path d="M478.3 379.2v-0.9" stroke="#888" stroke-width="0.6"/>
<path d="M482.2 379.2v-1.6" stroke="#888" stroke-width="0.6"/>
<path d="M486.1 379.2v-0.9" stroke="#888" stroke-width="0.6"/>
<path d="M490.0 379.2v-0.9" stroke="#888" stroke-width="0.6"/>
<path d="M493.9 379.2v-0.9" stroke="#888" stroke-width="0.6"/>
<path d="M497.8 379.2v-0.9" stroke="#888" stroke-width="0.6"/>
<path d="M501.8 379.2v-1.6" stroke="#888" stroke-width="0.6"/>
<path d="M505.7 379.2v-0.9" stroke="#888" stroke-width="0.6"/>
<path d="M509.6 379.2v-0.9" stroke="#888" stroke-width="0.6"/>
<path d="M513.5 379.2v-0.9" stroke="#888" stroke-width="0.6"/>
<path d="M517.4 379.2v-0.9" stroke="#888" stroke-width="0.6"/>
<path d="M521.3 379.2v-1.6" stroke="#888" stroke-width="0.6"/>
<path d="M525.2 379.2v-0.9" stroke="#888" stroke-width="0.6"/>
<path d="M529.2 379.2v-0.9" stroke="#888" stroke-width="0.6"/>
<path d="M533.1 379.2v-0.9" stroke="#888" stroke-width="0.6"/>
<path d="M537.0 379.2v-0.9" stroke="#888" stroke-width="0.6"/>
<path d="M540.9 379.2v-1.6" stroke="#888" stroke-width="0.6"/>
<path d="M410.10 341.1V327.82" stroke="#ff5a5a" stroke-width="0.8"/>
<path d="M410.75 341.1V337.86" stroke="#ff2a2a" stroke-width="0.9"/>
<path d="M414.01 341.1V336.56" stroke="#ff5a5a" stroke-width="0.8"/>
<path d="M414.66 341.1V321.66" stroke="#ff2a2a" stroke-width="1.3"/>
<path d="M415.32 341.1V335.27" stroke="#ff5a5a" stroke-width="0.8"/>
<path d="M440.43 341.1V327.49" stroke="#ff2a2a" stroke-width="0.9"/>
<path d="M441.09 341.1V308.70" stroke="#ff2a2a" stroke-width="0.9"/>
<path d="M441.74 341.1V329.44" stroke="#ff2a2a" stroke-width="0.9"/>
<path d="M440.76 341.1V334.62" stroke="#ff5a5a" stroke-width="0.8"/>
<path d="M442.39 341.1V339.48" stroke="#ff2a2a" stroke-width="0.9"/>
<path d="M449.89 341.1V330.73" stroke="#ff5a5a" stroke-width="0.8"/>
<path d="M449.24 341.1V337.86" stroke="#ff5a5a" stroke-width="0.8"/>
<path d="M450.55 341.1V337.86" stroke="#ff5a5a" stroke-width="0.8"/>
<path d="M465.88 341.1V335.27" stroke="#ff5a5a" stroke-width="0.8"/>
<path d="M466.53 341.1V317.77" stroke="#ff2a2a" stroke-width="0.9"/>
<path d="M467.18 341.1V333.97" stroke="#ff2a2a" stroke-width="0.9"/>
<path d="M397.70 341.1V339.48" stroke="#ff5a5a" stroke-width="0.8"/>
<path d="M418.58 341.1V339.80" stroke="#ff2a2a" stroke-width="0.9"/>
<path d="M423.47 341.1V340.45" stroke="#ff5a5a" stroke-width="0.8"/>
<path d="M436.52 341.1V339.80" stroke="#ff2a2a" stroke-width="0.9"/>
<path d="M444.67 341.1V340.45" stroke="#ff5a5a" stroke-width="0.8"/>
<path d="M479.90 341.1V340.78" stroke="#ff5a5a" stroke-width="0.8"/>
<path d="M495.56 341.1V340.78" stroke="#ff5a5a" stroke-width="0.8"/>
<path d="M519.70 341.1V340.78" stroke="#ff5a5a" stroke-width="0.8"/>
<path d="M534.05 341.1V340.78" stroke="#ff5a5a" stroke-width="0.8"/>
<path d="M393.79 341.1V345.96" stroke="#6474ff" stroke-width="0.7"/>
<path d="M410.10 341.1V357.30" stroke="#6474ff" stroke-width="0.8"/>
<path d="M414.01 341.1V347.58" stroke="#6474ff" stroke-width="0.8"/>
<path d="M414.66 341.1V353.09" stroke="#6474ff" stroke-width="0.8"/>
<path d="M440.11 341.1V357.30" stroke="#2a3cff" stroke-width="0.9"/>
<path d="M440.76 341.1V373.50" stroke="#6474ff" stroke-width="0.75"/>
<path d="M441.41 341.1V356.65" stroke="#2a3cff" stroke-width="0.9"/>
<path d="M440.76 341.1V361.84" stroke="#2a3cff" stroke-width="1.0"/>
<path d="M425.76 341.1V341.75" stroke="#6474ff" stroke-width="0.8"/>
<path d="M449.89 341.1V342.72" stroke="#2a3cff" stroke-width="0.9"/>
<path d="M466.53 341.1V343.69" stroke="#2a3cff" stroke-width="0.9"/>
<path d="M465.88 341.1V342.40" stroke="#6474ff" stroke-width="0.8"/>
<path d="M467.18 341.1V342.40" stroke="#6474ff" stroke-width="0.8"/>
<path d="M473.4 381.8L475.0 379.8L476.6 381.8Z" fill="none" stroke="#5a78ff" stroke-width="0.5"/>
</g>
<g class="sans" font-size="5.6" text-anchor="middle" filter="url(#bl2)">
<text x="377.2" y="310.7" text-anchor="end" fill="#444">100</text>
<text x="377.2" y="326.8" text-anchor="end" fill="#444">50</text>
<text x="377.2" y="343.1" text-anchor="end" fill="#444">0</text>
<text x="377.2" y="359.5" text-anchor="end" fill="#444">50</text>
<text x="377.2" y="376.1" text-anchor="end" fill="#444">100</text>
<text x="403.9" y="387.0" fill="#444">60</text>
<text x="423.5" y="387.0" fill="#444">120</text>
<text x="443.0" y="387.0" fill="#444">180</text>
<text x="462.6" y="387.0" fill="#444">240</text>
<text x="482.2" y="387.0" fill="#444">300</text>
<text x="501.8" y="387.0" fill="#444">360</text>
<text x="521.3" y="387.0" fill="#444">420</text>
<text x="397.7" y="336.9" fill="#ff2a2a">41</text>
<text x="414.7" y="320.2" fill="#ff2a2a">93</text>
<text x="441.1" y="307.1" fill="#ff2a2a">174</text>
<text x="449.7" y="329.4" fill="#ff2a2a">201</text>
<text x="466.5" y="317.1" fill="#ff2a2a">252</text>
<text x="479.3" y="340.0" fill="#ff2a2a">293</text>
<text x="495.2" y="340.0" fill="#ff2a2a">341</text>
<text x="519.0" y="340.0" fill="#ff2a2a">415</text>
<text x="533.2" y="340.0" fill="#ff2a2a">459</text>
<text x="394.1" y="351.5" fill="#2a3cff">29</text>
<text x="410.3" y="361.9" fill="#2a3cff">79</text>
<text x="426.1" y="346.7" fill="#2a3cff">127</text>
<text x="440.8" y="379.4" fill="#2a3cff">173</text>
<text x="449.7" y="349.5" fill="#2a3cff">201</text>
<text x="466.5" y="349.9" fill="#2a3cff">252</text>
</g>
<g filter="url(#bl2)"><path d="M499.2 357.4V353.79999999999995M499.2 357.4L495.0 359.59999999999997M499.2 357.4L500.8 360.59999999999997M499.2 357.4L505.2 360.4L508.8 358.59999999999997M505.7 361.4L509.3 359.59999999999997" fill="none" stroke="#4a5cff" stroke-width="0.55"/>
<g class="sans" font-size="5.2" fill="#3a4cff" text-anchor="middle"><text x="499.2" y="353.0">Br</text><text x="491.8" y="362.7">Br</text><text x="502.0" y="365.79999999999995">Br</text><text x="511.59999999999997" y="359.4">O</text></g></g>
<text class="ser" x="483.6" y="313.4" font-size="13.4" fill="#000">MF = 704</text>
<g filter="url(#bl)">
<polygon points="24.3,170.3 56.5,194.6 155.5,149.79999999999998 155.5,151.6 56.5,196.4 24.3,171.38000000000002" fill="#10b4e4"/>
<polygon points="24.3,170.3 56.5,194.6 155.5,149.79999999999998 120,133" fill="url(#cy)"/>
<path d="M24.3 170.3L56.5 194.6L155.5 149.79999999999998" fill="none" stroke="#0c78c0" stroke-width="0.7"/>
<path d="M123.1 162.8L124.1 159.7L125.2 162.8M67.8 180.0L68.7 177.8L69.7 180.0M82.1 182.0L83.0 181.0L83.8 182.0M111.3 165.3L112.4 161.8L113.5 165.3M104.0 163.4L105.1 159.9L106.2 163.4M71.8 174.7L72.9 170.6L74.1 174.7M108.7 168.5L109.7 165.5L110.8 168.5M118.3 165.2L119.3 162.2L120.4 165.2M73.4 186.2L74.2 185.0L75.1 186.2M111.5 163.4L112.5 160.7L113.6 163.4M112.1 160.8L113.6 153.3L115.1 160.8M120.2 153.9L121.2 151.1L122.2 153.9M93.5 166.9L95.1 158.4L96.7 166.9M101.1 171.7L102.7 163.3L104.3 171.7M85.6 180.7L86.5 179.5L87.4 180.7M112.6 167.1L114.1 159.6L115.6 167.1M131.1 154.7L132.3 150.7L133.4 154.7M123.1 162.4L124.2 159.2L125.3 162.4M107.6 169.6L108.9 164.0L110.2 169.6M85.6 167.9L87.1 159.7L88.7 167.9M96.0 167.5L97.3 162.4L98.5 167.5M115.5 166.0L116.5 163.6L117.5 166.0M81.7 182.3L82.8 178.6L83.9 182.3M66.6 184.5L67.6 182.5L68.5 184.5M94.1 172.5L95.4 167.3L96.6 172.5M105.9 169.7L107.4 162.2L108.9 169.7M89.9 165.7L91.0 162.6L92.0 165.7M102.6 167.3L104.0 160.7L105.4 167.3M106.4 171.0L107.4 168.5L108.4 171.0M88.5 173.0L90.0 165.0L91.6 173.0M71.4 183.1L72.3 181.5L73.2 183.1M115.3 165.4L116.3 162.7L117.4 165.4M87.0 172.6L88.0 169.5L89.1 172.6M129.0 159.0L130.0 156.4L131.0 159.0M130.1 159.4L131.2 155.3L132.4 159.4M72.5 179.1L73.5 176.7L74.5 179.1M97.0 166.9L98.2 162.6L99.4 166.9M80.6 170.1L81.9 165.3L83.1 170.1M106.3 159.3L107.5 155.0L108.7 159.3M114.2 157.3L115.7 149.8L117.2 157.3M81.5 182.5L82.5 180.4L83.4 182.5M77.2 173.6L78.5 168.3L79.8 173.6M125.1 161.9L126.1 159.2L127.1 161.9M87.3 168.3L88.2 166.2L89.2 168.3M104.8 168.5L105.8 166.1L106.8 168.5M127.8 151.9L128.7 150.4L129.6 151.9M104.8 170.3L105.9 166.3L107.1 170.3M90.3 172.1L91.3 169.4L92.4 172.1M83.5 172.2L84.4 170.5L85.3 172.2M84.9 181.0L85.7 179.7L86.6 181.0M90.2 157.6L91.1 156.0L92.0 157.6M112.4 146.3L113.5 142.7L114.6 146.3M102.4 161.3L103.4 159.2L104.3 161.3M108.9 145.2L109.7 143.8L110.6 145.2M100.7 150.4L101.7 148.7L102.6 150.4M105.8 152.1L106.6 150.8L107.5 152.1M99.8 154.6L100.7 153.2L101.6 154.6M113.0 143.3L113.9 141.9L114.8 143.3M124.1 150.6L125.0 148.9L126.0 150.6M121.0 143.4L121.9 142.1L122.8 143.4M134.8 147.5L135.8 144.5L136.9 147.5M132.3 145.5L133.2 143.7L134.2 145.5M129.9 148.2L130.8 146.9L131.6 148.2M148.7 148.9L149.5 147.8L150.4 148.9M136.9 143.0L137.8 141.7L138.7 143.0M62.2 182.1L63.1 181.0L63.9 182.1M56.8 184.5L57.6 183.7L58.4 184.5M69.6 183.1L70.4 182.3L71.2 183.1M60.9 190.8L61.7 190.2L62.5 190.8M54.9 188.9L55.8 187.6L56.7 188.9M54.4 188.6L55.2 187.9L56.0 188.6M57.8 187.7L58.7 185.9L59.6 187.7M65.6 180.6L66.4 179.8L67.2 180.6M75.0 179.4L75.8 178.0L76.7 179.4M74.3 178.2L75.1 177.4L75.9 178.2M53.4 189.9L54.9 182.4L56.4 189.9" fill="#2436b8"/>
<path d="M95.4 171.2L97.0 162.5L98.6 171.2M97.3 171.3L98.6 165.7L99.9 171.3M115.9 164.7L117.0 161.7L118.0 164.7M87.5 169.8L88.6 166.3L89.7 169.8M133.4 155.5L134.3 154.3L135.2 155.5M83.3 181.2L84.4 177.4L85.5 181.2M130.8 155.6L131.8 152.6L132.9 155.6M71.5 187.0L72.5 184.4L73.5 187.0M98.6 166.5L100.3 157.0L102.0 166.5M126.0 150.9L127.1 147.5L128.2 150.9M120.1 164.3L121.4 158.7L122.7 164.3M114.9 166.2L115.9 163.4L116.9 166.2M94.5 170.6L96.1 161.9L97.7 170.6M122.6 162.8L123.6 160.5L124.6 162.8M104.3 159.5L105.6 154.5L106.9 159.5M103.6 170.7L105.1 163.3L106.6 170.7M106.0 169.6L107.1 165.2L108.3 169.6M100.5 172.2L101.5 169.4L102.5 172.2M100.3 162.0L101.3 159.3L102.4 162.0M122.4 163.3L123.4 160.8L124.4 163.3M129.0 158.4L130.0 156.1L130.9 158.4M118.8 152.4L119.7 150.9L120.6 152.4M101.6 170.3L102.9 164.2L104.3 170.3M118.4 165.1L119.5 161.4L120.6 165.1M107.4 164.7L108.4 161.4L109.5 164.7M127.1 154.6L128.1 152.5L129.0 154.6M108.4 161.3L110.2 151.3L111.9 161.3M91.8 164.8L93.1 159.1L94.4 164.8M100.0 173.5L101.0 171.3L102.0 173.5M105.9 168.2L107.5 159.9L109.1 168.2M71.9 186.9L72.8 185.9L73.6 186.9M85.4 172.8L86.8 166.6L88.1 172.8M114.1 165.6L115.6 157.7L117.2 165.6M71.4 180.4L72.3 178.4L73.3 180.4M90.9 169.1L91.9 165.9L93.0 169.1M100.1 169.3L101.5 163.6L102.8 169.3M128.6 154.1L129.8 149.9L130.9 154.1M85.7 180.3L86.8 176.1L88.0 180.3M88.4 174.9L89.8 167.8L91.3 174.9M89.5 166.2L90.8 160.6L92.1 166.2M125.7 160.0L127.1 154.2L128.4 160.0M89.6 177.7L90.5 176.1L91.4 177.7M87.9 172.9L88.8 171.0L89.8 172.9M92.9 173.9L94.5 165.7L96.0 173.9M119.7 158.4L120.6 156.6L121.6 158.4M78.8 183.7L79.8 181.1L80.8 183.7M120.2 148.3L121.1 146.7L122.0 148.3M110.0 152.8L110.9 151.3L111.8 152.8M99.2 162.6L100.1 161.1L101.0 162.6M132.4 147.9L133.3 146.7L134.1 147.9M127.1 140.3L127.9 139.1L128.8 140.3M126.6 141.3L127.5 139.9L128.3 141.3M141.0 145.0L141.9 143.6L142.8 145.0M138.1 148.1L139.0 146.7L139.9 148.1M76.5 182.3L77.3 181.6L78.1 182.3M53.7 186.8L54.6 186.2L55.4 186.8M72.4 179.3L73.2 178.7L74.1 179.3M52.1 189.8L53.0 189.0L53.8 189.8M60.4 183.2L61.2 182.6L62.0 183.2M55.9 186.7L56.8 185.7L57.6 186.7M74.3 183.9L75.1 182.8L76.0 183.9M64.7 182.1L65.5 181.4L66.4 182.1" fill="#3040cc"/>
<path d="M60.9 179.1L62.0 176.3L63.0 179.1M74.3 184.9L75.3 181.7L76.4 184.9M75.4 177.7L76.6 173.4L77.8 177.7M107.9 167.5L108.9 164.8L109.9 167.5M61.3 179.5L62.2 178.6L63.0 179.5M79.0 170.2L79.9 168.6L80.8 170.2M109.4 167.0L110.8 160.9L112.1 167.0M120.9 153.4L121.9 150.8L122.9 153.4M105.9 158.8L106.9 155.5L108.0 158.8M81.9 180.1L83.0 177.1L84.0 180.1M62.8 181.0L63.6 180.4L64.4 181.0M123.2 162.9L124.2 160.7L125.2 162.9M100.0 173.9L101.5 166.0L103.1 173.9M108.9 166.5L110.3 159.9L111.7 166.5M103.3 164.1L104.5 159.7L105.7 164.1M93.1 177.2L94.2 173.8L95.3 177.2M119.0 160.1L120.2 155.9L121.3 160.1M116.1 166.2L117.4 160.7L118.7 166.2M79.1 177.2L80.0 175.3L81.0 177.2M97.1 173.2L98.3 169.2L99.4 173.2M106.4 164.8L107.7 159.2L109.0 164.8M129.3 159.6L130.3 157.5L131.2 159.6M117.7 164.4L118.7 162.0L119.7 164.4M100.0 169.1L101.0 166.4L102.1 169.1M96.7 175.1L97.7 172.8L98.7 175.1M103.9 172.0L105.5 162.9L107.2 172.0M116.4 158.8L117.9 151.5L119.4 158.8M109.4 166.7L110.8 160.4L112.2 166.7M76.7 173.4L77.8 169.2L79.0 173.4M62.5 179.8L63.3 179.0L64.1 179.8M89.6 178.8L90.5 176.8L91.5 178.8M64.8 179.2L65.7 177.9L66.6 179.2M88.7 165.9L90.2 158.1L91.8 165.9M121.3 155.1L122.4 151.0L123.6 155.1M93.3 171.5L94.2 169.3L95.2 171.5M110.7 164.1L112.1 157.7L113.4 164.1M97.1 174.2L98.5 167.1L100.0 174.2M87.4 175.4L88.7 170.3L90.0 175.4M129.0 157.2L130.0 154.8L131.0 157.2M74.4 185.7L75.3 183.7L76.3 185.7M119.5 152.6L120.9 146.9L122.2 152.6M127.9 159.3L128.8 157.8L129.7 159.3M98.6 170.1L100.1 163.0L101.5 170.1M108.8 160.6L110.0 156.2L111.2 160.6M81.3 180.4L82.2 178.7L83.1 180.4M74.3 178.1L75.2 176.6L76.1 178.1M101.5 169.2L102.6 165.7L103.7 169.2M67.9 186.3L68.7 185.2L69.6 186.3M116.2 158.8L117.4 153.7L118.7 158.8M100.0 160.5L101.1 157.0L102.2 160.5M105.0 171.1L106.6 163.1L108.1 171.1M117.8 165.3L119.0 160.5L120.2 165.3M87.3 176.8L88.5 172.1L89.7 176.8M76.5 177.5L77.4 175.8L78.4 177.5M116.9 165.3L118.0 161.1L119.2 165.3M118.4 150.7L119.4 148.5L120.4 150.7M105.2 148.7L106.2 146.0L107.2 148.7M101.6 150.0L102.6 147.4L103.6 150.0M107.0 159.2L107.9 157.8L108.8 159.2M115.6 155.6L116.5 154.3L117.3 155.6M104.3 155.6L105.2 154.3L106.0 155.6M124.8 141.5L125.6 140.1L126.5 141.5M146.7 147.7L147.6 146.5L148.4 147.7M136.3 149.0L137.2 147.7L138.1 149.0M131.1 146.5L132.0 145.3L132.9 146.5M141.0 147.6L141.9 145.8L142.8 147.6M140.8 149.1L141.8 146.9L142.8 149.1M126.9 139.7L127.9 137.7L128.8 139.7M61.0 189.3L61.8 188.6L62.6 189.3M82.4 179.3L83.3 178.0L84.2 179.3M60.4 185.4L61.4 183.6L62.3 185.4M66.9 180.2L67.7 179.4L68.5 180.2M76.9 179.3L77.7 178.4L78.6 179.3" fill="#4428a8"/>
<path d="M108.5 164.3L109.6 161.5L110.6 164.3M67.5 185.6L68.3 185.0L69.1 185.6M97.8 171.8L99.4 163.8L100.9 171.8M123.6 149.5L124.8 145.5L125.9 149.5M88.8 179.0L90.1 174.3L91.3 179.0M120.6 163.9L121.7 160.9L122.7 163.9M76.0 184.9L77.0 182.3L78.1 184.9M77.8 180.1L78.7 178.1L79.7 180.1M108.1 167.9L109.3 162.9L110.5 167.9M127.6 160.2L128.6 158.3L129.5 160.2M78.2 172.6L79.2 170.8L80.1 172.6M129.3 157.9L130.4 153.7L131.6 157.9M112.8 157.4L114.1 152.5L115.3 157.4M110.4 168.8L111.9 162.1L113.3 168.8M88.7 171.5L89.9 166.7L91.1 171.5M90.4 168.6L91.4 166.4L92.4 168.6M86.8 180.1L87.8 178.1L88.7 180.1M124.5 155.9L125.6 153.0L126.6 155.9M78.7 181.3L79.6 179.9L80.4 181.3M112.8 162.9L113.9 159.4L115.0 162.9M117.4 165.1L118.4 161.8L119.5 165.1M118.8 158.8L120.1 153.1L121.4 158.8M73.8 174.9L75.1 170.0L76.3 174.9M98.8 166.0L100.0 160.8L101.3 166.0M63.8 182.0L64.6 181.4L65.4 182.0M115.9 155.3L116.9 153.0L117.9 155.3M89.8 169.1L91.4 160.9L93.0 169.1M105.1 171.2L106.2 168.2L107.2 171.2M119.5 162.8L120.7 158.5L121.8 162.8M64.6 183.8L65.5 181.6L66.5 183.8M79.3 180.9L80.3 177.7L81.4 180.9M109.4 164.5L110.7 158.9L112.0 164.5M85.1 178.8L86.0 177.6L86.8 178.8M70.4 183.0L71.4 180.6L72.4 183.0M110.3 168.8L112.1 158.6L113.8 168.8M61.3 178.7L62.4 175.9L63.4 178.7M110.0 168.9L111.4 162.3L112.8 168.9M105.1 171.4L106.3 166.6L107.5 171.4M92.8 176.3L94.1 171.1L95.3 176.3M119.9 163.8L121.0 160.8L122.0 163.8M124.2 151.0L125.4 146.5L126.6 151.0M103.8 163.7L104.9 160.5L106.0 163.7M88.7 176.9L90.1 170.4L91.5 176.9M92.6 175.6L93.6 172.3L94.7 175.6M118.8 158.4L120.2 151.6L121.6 158.4M134.4 155.3L135.2 154.0L136.1 155.3M98.4 163.2L99.4 160.8L100.4 163.2M76.7 184.7L77.6 183.7L78.4 184.7M84.6 181.1L85.5 179.4L86.5 181.1M101.7 172.5L102.7 170.3L103.7 172.5M77.7 173.9L78.8 170.9L79.8 173.9M88.6 172.1L89.6 169.6L90.6 172.1M109.9 167.8L111.1 163.5L112.3 167.8M94.7 172.5L96.0 166.7L97.3 172.5M120.3 152.3L121.2 150.7L122.2 152.3M100.8 154.4L101.7 153.1L102.6 154.4M111.9 155.4L112.9 152.4L114.0 155.4M100.1 150.3L101.2 146.6L102.3 150.3M114.7 154.9L115.5 153.5L116.4 154.9M103.5 161.6L104.5 159.4L105.5 161.6M104.9 152.7L105.9 150.4L106.9 152.7M114.4 157.5L115.4 154.4L116.5 157.5M116.5 147.8L117.4 146.0L118.4 147.8M115.5 155.6L116.5 153.6L117.4 155.6M94.9 151.4L95.9 148.8L96.9 151.4M118.0 154.0L118.9 152.3L119.8 154.0M112.0 146.9L113.0 144.2L114.0 146.9M129.9 141.7L131.0 138.6L132.0 141.7M145.2 149.3L146.1 147.7L147.0 149.3M133.4 148.2L134.4 145.6L135.4 148.2M57.5 187.7L58.3 186.3L59.2 187.7M72.6 182.1L73.5 180.5L74.4 182.1M65.2 184.2L66.0 183.3L66.8 184.2M54.3 187.5L55.1 186.8L55.9 187.5M73.9 183.8L74.7 182.3L75.6 183.8M67.3 186.1L68.3 184.2L69.2 186.1M56.2 187.4L57.1 186.7L57.9 187.4M67.9 187.9L68.7 186.6L69.6 187.9M57.9 187.1L58.8 185.3L59.7 187.1M70.4 180.5L71.2 179.7L72.0 180.5" fill="#2850d0"/>
<path d="M99.0 168.3L100.2 163.2L101.5 168.3M124.6 152.4L125.5 151.2L126.4 152.4M73.7 174.9L74.6 172.6L75.6 174.9M76.0 177.8L76.8 176.6L77.7 177.8M83.1 181.1L84.3 176.3L85.5 181.1M122.0 161.7L123.5 154.2L125.0 161.7M90.9 177.2L91.8 175.5L92.7 177.2M121.9 154.3L122.8 152.2L123.8 154.3M115.7 165.1L117.3 156.9L118.8 165.1M70.3 187.6L71.2 186.3L72.0 187.6M105.0 158.9L106.0 156.7L107.0 158.9M97.5 169.3L99.2 160.0L100.9 169.3M127.9 158.7L129.1 154.4L130.3 158.7M132.9 155.1L133.7 153.9L134.6 155.1M104.5 162.3L106.2 152.1L108.0 162.3M86.6 173.3L87.7 169.4L88.9 173.3M112.3 156.9L113.2 154.8L114.2 156.9M90.4 173.6L91.8 166.5L93.3 173.6M111.6 156.2L112.7 152.2L113.9 156.2M97.0 167.6L98.6 159.0L100.2 167.6M108.3 165.6L110.0 156.7L111.6 165.6M98.7 169.2L99.7 166.9L100.7 169.2M88.7 173.8L89.6 171.9L90.6 173.8M86.3 180.2L87.3 177.3L88.4 180.2M78.3 176.4L79.5 172.2L80.6 176.4M76.2 183.1L77.2 180.6L78.2 183.1M125.0 150.5L125.9 149.3L126.8 150.5M113.1 158.3L114.2 154.6L115.4 158.3M119.5 153.9L120.7 149.4L121.9 153.9M81.3 181.0L82.2 179.9L83.0 181.0M85.5 169.4L86.8 163.3L88.2 169.4M93.3 164.8L94.8 157.4L96.3 164.8M111.7 165.2L112.8 161.8L113.9 165.2M118.4 164.3L119.4 161.8L120.4 164.3M91.9 174.5L92.8 172.1L93.8 174.5M67.1 178.9L67.9 178.1L68.7 178.9M95.3 175.7L96.5 171.1L97.7 175.7M118.8 160.4L120.2 153.2L121.7 160.4M106.8 170.1L108.3 162.1L109.9 170.1M70.3 183.9L71.3 181.5L72.3 183.9M128.3 154.4L129.4 151.6L130.4 154.4M135.1 157.1L136.0 155.3L137.0 157.1M97.7 165.5L99.0 160.4L100.2 165.5M61.6 182.7L62.6 180.5L63.6 182.7M104.4 171.3L106.0 162.8L107.6 171.3M128.6 155.5L129.7 151.5L130.9 155.5M121.2 158.7L122.1 156.8L123.0 158.7M96.7 175.4L98.2 167.4L99.8 175.4M122.1 147.0L123.1 144.4L124.1 147.0M127.2 151.8L128.3 148.9L129.3 151.8M104.3 148.6L105.3 145.5L106.4 148.6M108.9 149.4L109.9 147.0L110.9 149.4M112.5 149.0L113.5 146.9L114.5 149.0M106.8 152.1L107.9 148.8L109.0 152.1M122.9 149.9L123.9 147.7L124.9 149.9M111.7 148.2L112.7 146.0L113.7 148.2M88.5 155.1L89.4 153.3L90.4 155.1M113.6 150.8L114.5 149.4L115.3 150.8M100.3 162.2L101.5 158.5L102.6 162.2M110.1 146.2L111.1 144.2L112.0 146.2M98.5 154.0L99.4 152.8L100.3 154.0M142.8 150.2L143.9 146.8L145.0 150.2M137.9 151.1L139.0 147.7L140.1 151.1M141.6 145.8L142.4 144.6L143.3 145.8M137.1 149.8L138.0 148.6L138.9 149.8M143.7 150.3L144.6 149.1L145.4 150.3M63.3 183.2L64.2 182.1L65.0 183.2M65.2 181.2L66.1 179.7L67.0 181.2M50.2 189.1L51.1 187.5L52.0 189.1M57.1 188.1L57.9 187.3L58.8 188.1M55.5 184.9L56.3 184.2L57.2 184.9M97.9 158.2L99.5 149.7L101.1 158.2M91.0 164.0L92.5 156.5L94.0 164.0" fill="#5626a0"/>
<path d="M78.8 180.3L79.8 177.5L80.8 180.3M112.8 167.6L114.0 163.0L115.3 167.6M81.8 180.4L83.0 176.3L84.1 180.4M112.2 167.7L114.0 157.0L115.8 167.7M71.7 182.7L72.5 181.6L73.4 182.7M97.6 164.7L99.0 158.3L100.4 164.7M108.0 169.9L109.2 165.7L110.4 169.9M116.9 152.9L118.1 148.6L119.3 152.9M108.8 166.0L110.3 158.3L111.8 166.0M101.1 172.5L102.5 165.8L103.9 172.5M80.6 180.5L81.8 176.8L82.9 180.5M107.6 168.8L108.6 166.0L109.7 168.8M115.1 166.0L116.3 161.1L117.6 166.0M81.5 182.5L82.4 180.4L83.4 182.5M125.4 154.5L126.3 153.0L127.2 154.5M80.6 171.4L82.0 165.5L83.3 171.4M133.6 157.7L134.6 156.1L135.5 157.7M114.6 154.3L115.7 150.4L116.9 154.3M131.1 155.1L132.0 152.9L133.0 155.1M85.1 177.9L86.0 176.4L86.9 177.9M118.6 164.7L119.8 159.8L121.1 164.7M121.4 158.1L122.8 151.7L124.1 158.1M130.7 158.2L132.1 152.1L133.5 158.2M122.8 160.1L124.1 154.0L125.5 160.1M70.3 187.5L71.3 185.7L72.2 187.5M76.5 184.8L77.4 182.9L78.3 184.8M63.1 178.9L64.0 177.5L64.9 178.9M91.0 164.7L92.5 156.6L94.1 164.7M113.4 159.2L114.5 155.3L115.6 159.2M101.4 173.4L102.5 169.7L103.6 173.4M83.3 168.0L84.6 162.8L85.8 168.0M76.4 173.7L77.5 170.6L78.5 173.7M130.7 153.3L131.9 149.5L133.0 153.3M101.1 173.1L102.3 168.2L103.5 173.1M93.1 176.0L94.4 171.0L95.6 176.0M72.0 186.8L73.0 184.6L74.0 186.8M92.2 163.7L93.9 153.7L95.7 163.7M74.2 185.8L75.2 183.3L76.2 185.8M74.2 185.2L75.2 182.9L76.2 185.2M74.9 185.5L75.9 183.1L76.8 185.5M97.6 174.8L99.0 168.3L100.4 174.8M72.2 181.2L73.2 178.5L74.2 181.2M79.0 176.6L80.1 173.5L81.1 176.6M124.7 153.2L125.7 150.9L126.7 153.2M130.3 153.3L131.2 151.8L132.1 153.3M80.0 183.2L80.9 181.7L81.8 183.2M124.6 161.4L125.7 157.1L126.9 161.4M107.1 156.0L108.3 152.3L109.4 156.0M105.7 147.8L106.6 146.2L107.5 147.8M106.4 148.9L107.3 147.6L108.2 148.9M100.6 156.9L101.6 154.4L102.6 156.9M108.7 158.9L109.7 157.3L110.6 158.9M102.1 148.8L103.0 147.5L103.9 148.8M104.9 161.4L106.0 157.9L107.1 161.4M104.2 149.4L105.2 147.4L106.1 149.4M101.2 156.6L102.1 155.1L103.0 156.6M104.2 147.4L105.2 144.9L106.2 147.4M116.9 152.8L117.9 150.1L118.9 152.8M132.3 141.7L133.2 140.0L134.1 141.7M125.2 137.9L126.1 136.7L127.0 137.9M123.5 139.4L124.5 136.0L125.6 139.4M136.5 146.4L137.4 145.0L138.3 146.4M78.3 179.5L79.2 178.5L80.0 179.5M54.6 191.2L55.4 190.4L56.2 191.2M107.4 151.9L108.8 145.4L110.2 151.9" fill="#1c2c98"/>
<path d="M89.3 177.2L90.1 174.3L90.8 177.2M98.1 165.7L99.2 160.0L100.2 165.7M106.3 157.5L106.9 155.5L107.6 157.5M100.6 170.9L101.5 166.0L102.5 170.9M103.8 162.4L104.5 159.7L105.3 162.4M95.1 167.3L96.1 161.9L97.1 167.3M116.6 164.1L117.4 160.7L118.2 164.1M96.5 165.6L97.3 162.4L98.1 165.6M119.9 161.2L120.7 158.5L121.4 161.2M79.7 179.7L80.3 177.7L81.0 179.7M93.6 174.1L94.4 171.0L95.1 174.1M86.0 167.1L86.8 163.3L87.7 167.1M89.3 162.9L90.2 158.1L91.2 162.9M124.7 149.3L125.4 146.5L126.2 149.3M114.7 162.6L115.6 157.7L116.6 162.6M119.3 157.7L120.2 153.2L121.1 157.7M99.2 167.4L100.1 163.0L101.0 167.4M119.3 155.8L120.2 151.6L121.1 155.8M98.2 163.6L99.0 160.4L99.8 163.6M105.6 168.1L106.6 163.1L107.5 168.1M87.7 175.0L88.5 172.1L89.2 175.0M117.3 163.7L118.0 161.1L118.8 163.7M54.0 187.0L54.9 182.4L55.9 187.0" fill="#a82890"/>
<path d="M97.8 169.1L98.6 165.7L99.4 169.1M87.9 168.4L88.6 166.3L89.3 168.4M104.4 162.1L105.1 159.9L105.8 162.1M113.3 165.8L114.0 163.0L114.8 165.8M75.9 176.1L76.6 173.4L77.4 176.1M116.3 162.0L117.3 156.9L118.2 162.0M126.4 149.6L127.1 147.5L127.8 149.6M89.2 169.7L89.9 166.7L90.7 169.7M115.6 164.1L116.3 161.1L117.1 164.1M131.6 153.2L132.3 150.7L133.0 153.2M97.6 164.3L98.6 159.0L99.6 164.3M104.2 167.9L105.1 163.3L106.0 167.9M131.3 155.9L132.1 152.1L133.0 155.9M123.3 157.8L124.1 154.0L125.0 157.8M77.1 171.8L77.8 169.2L78.6 171.8M113.5 156.9L114.2 154.6L114.9 156.9M107.8 163.4L108.4 161.4L109.1 163.4M94.6 170.6L95.4 167.3L96.2 170.6M106.5 166.8L107.4 162.2L108.4 166.8M121.7 153.5L122.4 151.0L123.2 153.5M93.3 174.3L94.1 171.1L94.8 174.3M91.3 167.9L91.9 165.9L92.6 167.9M130.5 157.8L131.2 155.3L131.9 157.8M109.3 158.9L110.0 156.2L110.7 158.9M88.9 172.2L89.8 167.8L90.7 172.2M126.2 157.8L127.1 154.2L127.9 157.8M125.0 159.7L125.7 157.1L126.5 159.7M129.0 154.0L129.7 151.5L130.5 154.0M95.2 170.3L96.0 166.7L96.8 170.3M107.6 154.6L108.3 152.3L109.0 154.6M112.8 144.9L113.5 142.7L114.2 144.9M107.2 150.9L107.9 148.8L108.5 150.9M123.9 138.1L124.5 136.0L125.2 138.1M107.9 149.5L108.8 145.4L109.6 149.5" fill="#b83078"/>
<path d="M98.4 168.8L99.4 163.8L100.3 168.8M111.7 164.0L112.4 161.8L113.1 164.0M122.5 158.9L123.5 154.2L124.4 158.9M83.7 179.7L84.4 177.4L85.1 179.7M72.2 173.2L72.9 170.6L73.6 173.2M108.5 168.3L109.2 165.7L109.9 168.3M109.4 163.1L110.3 158.3L111.3 163.1M109.9 164.7L110.8 160.9L111.6 164.7M120.6 162.2L121.4 158.7L122.2 162.2M128.4 157.1L129.1 154.4L129.9 157.1M109.4 164.0L110.3 159.9L111.2 164.0M105.1 158.4L106.2 152.1L107.3 158.4M87.0 171.8L87.7 169.4L88.4 171.8M113.1 164.2L114.1 159.6L115.0 164.2M93.5 175.9L94.2 173.8L94.9 175.9M99.3 164.0L100.0 160.8L100.8 164.0M104.8 157.6L105.6 154.5L106.4 157.6M119.4 158.5L120.2 155.9L120.9 158.5M86.2 164.8L87.1 159.7L88.1 164.8M97.6 171.7L98.3 169.2L99.0 171.7M106.9 162.7L107.7 159.2L108.5 162.7M91.6 161.7L92.5 156.6L93.5 161.7M101.8 172.0L102.5 169.7L103.2 172.0M83.8 166.0L84.6 162.8L85.4 166.0M92.3 162.7L93.1 159.1L93.9 162.7M131.2 151.8L131.9 149.5L132.6 151.8M85.9 170.5L86.8 166.6L87.6 170.5M97.6 171.5L98.5 167.1L99.4 171.5M93.0 174.3L93.6 172.3L94.3 174.3M100.6 167.1L101.5 163.6L102.3 167.1M81.1 168.3L81.9 165.3L82.6 168.3M114.8 154.4L115.7 149.8L116.6 154.4M100.4 159.2L101.1 157.0L101.7 159.2M118.2 163.5L119.0 160.5L119.8 163.5M105.0 168.1L106.0 162.8L107.0 168.1M93.5 170.8L94.5 165.7L95.4 170.8M97.3 172.3L98.2 167.4L99.2 172.3M138.3 149.8L139.0 147.7L139.7 149.8" fill="#8a2cb0"/>
<path d="M82.3 178.8L83.0 176.3L83.7 178.8M112.9 163.6L114.0 157.0L115.1 163.6M108.5 166.0L109.3 162.9L110.1 166.0M112.7 157.9L113.6 153.3L114.6 157.9M129.7 156.3L130.4 153.7L131.2 156.3M113.3 155.5L114.1 152.5L114.8 155.5M94.1 163.7L95.1 158.4L96.1 163.7M101.7 168.5L102.7 163.3L103.7 168.5M117.8 163.9L118.4 161.8L119.1 163.9M112.0 154.7L112.7 152.2L113.4 154.7M119.3 156.6L120.1 153.1L120.9 156.6M74.3 173.1L75.1 170.0L75.9 173.1M108.9 162.2L110.0 156.7L111.0 162.2M119.1 162.9L119.8 159.8L120.6 162.9M78.7 174.8L79.5 172.2L80.2 174.8M82.1 180.9L82.8 178.6L83.5 180.9M104.5 168.6L105.5 162.9L106.6 168.6M120.0 152.2L120.7 149.4L121.5 152.2M111.0 164.9L112.1 158.6L113.2 164.9M93.9 162.0L94.8 157.4L95.7 162.0M112.1 163.9L112.8 161.8L113.5 163.9M89.1 170.0L90.0 165.0L91.0 170.0M120.0 150.4L120.9 146.9L121.7 150.4M89.2 174.4L90.1 170.4L90.9 174.4M95.8 174.0L96.5 171.1L97.3 174.0M129.0 152.5L129.8 149.9L130.5 152.5M98.1 172.4L99.0 168.3L99.8 172.4M105.2 168.8L105.9 166.3L106.6 168.8M105.3 160.1L106.0 157.9L106.7 160.1M143.2 148.9L143.9 146.8L144.6 148.9" fill="#c83c60"/>
<path d="M124.1 148.0L124.8 145.5L125.5 148.0M81.1 179.1L81.8 176.8L82.4 179.1M90.9 170.9L91.8 166.5L92.7 170.9M81.1 169.2L82.0 165.5L82.8 169.2M106.4 167.9L107.1 165.2L107.9 167.9M115.0 152.8L115.7 150.4L116.4 152.8M108.1 167.5L108.9 164.0L109.7 167.5M102.1 167.9L102.9 164.2L103.8 167.9M118.8 163.7L119.5 161.4L120.2 163.7M109.9 162.4L110.7 158.9L111.5 162.4M106.5 165.0L107.5 159.9L108.5 165.0M103.2 164.8L104.0 160.7L104.9 164.8M111.2 161.7L112.1 157.7L112.9 161.7M87.9 173.5L88.7 170.3L89.5 173.5M107.4 167.0L108.3 162.1L109.3 167.0M86.1 178.7L86.8 176.1L87.6 178.7M106.8 157.7L107.5 155.0L108.3 157.7M77.7 171.6L78.5 168.3L79.3 171.6M102.0 167.9L102.6 165.7L103.3 167.9M110.3 166.2L111.1 163.5L111.8 166.2" fill="#7030c0"/>
<path d="M96.0 167.9L97.0 162.5L98.0 167.9M99.4 166.4L100.2 163.2L101.0 166.4M83.5 179.3L84.3 176.3L85.1 179.3M98.1 162.3L99.0 158.3L99.9 162.3M117.4 151.3L118.1 148.6L118.8 151.3M99.3 162.9L100.3 157.0L101.4 162.9M111.0 166.3L111.9 162.1L112.7 166.3M101.6 170.0L102.5 165.8L103.4 170.0M113.2 161.6L113.9 159.4L114.6 161.6M90.4 166.0L91.4 160.9L92.4 166.0M121.9 155.6L122.8 151.7L123.6 155.6M117.0 156.0L117.9 151.5L118.8 156.0M110.0 164.4L110.8 160.4L111.7 164.4M113.8 157.7L114.5 155.3L115.2 157.7M109.1 157.5L110.2 151.3L111.3 157.5M101.5 171.2L102.3 168.2L103.1 171.2M110.5 166.4L111.4 162.3L112.2 166.4M105.5 169.6L106.3 166.6L107.0 169.6M92.9 159.9L93.9 153.7L95.0 159.9M97.5 165.3L98.2 162.6L98.9 165.3M116.6 156.9L117.4 153.7L118.2 156.9M90.0 164.1L90.8 160.6L91.6 164.1M100.5 148.9L101.2 146.6L101.9 148.9M100.8 160.8L101.5 158.5L102.2 160.8M98.5 155.0L99.5 149.7L100.5 155.0M91.5 161.1L92.5 156.5L93.4 161.1" fill="#9c2c9c"/>
<path d="M109.9 160.5L110.3 158.3L110.8 160.5M113.2 155.4L113.6 153.3L114.1 155.4M94.7 160.8L95.1 158.4L95.6 160.8M101.1 168.2L101.5 166.0L102.0 168.2M95.6 164.4L96.1 161.9L96.6 164.4M113.6 161.7L114.1 159.6L114.5 161.7M104.7 165.4L105.1 163.3L105.5 165.4M109.5 159.1L110.0 156.7L110.5 159.1M115.2 159.9L115.6 157.7L116.1 159.9M115.3 151.9L115.7 149.8L116.1 151.9" fill="#60d040"/>
<path d="M113.4 160.0L114.0 157.0L114.5 160.0M116.8 159.2L117.3 156.9L117.7 159.2M102.1 167.7L102.5 165.8L102.9 167.7M86.7 162.0L87.1 159.7L87.6 162.0M90.9 163.2L91.4 160.9L91.9 163.2M92.1 158.9L92.5 156.6L93.0 158.9M109.7 154.1L110.2 151.3L110.7 154.1M111.5 161.4L112.1 158.6L112.6 161.4M94.4 159.5L94.8 157.4L95.3 159.5M93.4 156.5L93.9 153.7L94.5 156.5M98.1 169.1L98.5 167.1L99.0 169.1M89.5 167.3L90.0 165.0L90.5 167.3M119.8 155.2L120.2 153.2L120.7 155.2M119.8 153.5L120.2 151.6L120.6 153.5M105.5 165.2L106.0 162.8L106.4 165.2M54.5 184.5L54.9 182.4L55.4 184.5" fill="#e8d040"/>
<path d="M96.5 164.9L97.0 162.5L97.5 164.9M98.9 166.0L99.4 163.8L99.8 166.0M123.0 156.3L123.5 154.2L123.9 156.3M99.8 159.6L100.3 157.0L100.9 159.6M111.4 164.0L111.9 162.1L112.3 164.0M98.7 162.6L99.2 160.0L99.7 162.6M109.9 161.7L110.3 159.9L110.7 161.7M105.7 154.9L106.2 152.1L106.8 154.9M98.1 161.4L98.6 159.0L99.1 161.4M117.5 153.5L117.9 151.5L118.3 153.5M107.0 164.3L107.4 162.2L107.9 164.3M89.8 160.3L90.2 158.1L90.7 160.3M111.0 164.2L111.4 162.3L111.8 164.2M103.6 162.6L104.0 160.7L104.5 162.6M107.9 164.3L108.3 162.1L108.8 164.3M99.6 165.0L100.1 163.0L100.5 165.0M89.4 169.8L89.8 167.8L90.3 169.8M106.1 165.4L106.6 163.1L107.1 165.4M94.0 168.0L94.5 165.7L94.9 168.0M99.0 152.1L99.5 149.7L100.0 152.1" fill="#f07040"/>
<path d="M102.2 165.7L102.7 163.3L103.2 165.7M91.4 168.5L91.8 166.5L92.3 168.5M105.0 165.4L105.5 162.9L106.0 165.4M107.0 162.2L107.5 159.9L108.0 162.2M97.8 169.6L98.2 167.4L98.7 169.6M92.0 158.6L92.5 156.5L92.9 158.6" fill="#e04848"/>
<path d="M121.7 141.1L141.0 149.7" stroke="#9850c0" stroke-width="1.8" opacity="0.85"/>
<path d="M121.0 137.2L136.1 143.7" stroke="#4860d8" stroke-width="1.3" opacity="0.85"/>
<linearGradient id="r1" gradientUnits="userSpaceOnUse" x1="105.2" y1="132.6" x2="132.7" y2="148.4"><stop offset="0" stop-color="#f09478"/><stop offset="0.3" stop-color="#d06890"/><stop offset="0.65" stop-color="#9850b8"/><stop offset="1" stop-color="#6848c8"/></linearGradient>
<polygon points="104.3,137.6 104.5,132.6 107.0,133.3 134.3,148.2 133.7,151.4 131.2,151.4" fill="url(#r1)"/>
<polygon points="104.3,137.6 104.4,135.1 132.9,149.8 133.7,151.4 131.2,151.4" fill="#4030b8" opacity="0.6"/>
<path d="M104.3 137.6L131.2 151.4" stroke="#3038b8" stroke-width="0.9" opacity="0.8"/>
<linearGradient id="w1" gradientUnits="userSpaceOnUse" x1="144.4" y1="144.7" x2="148.2" y2="154.0"><stop offset="0" stop-color="#48c83c"/><stop offset="0.14" stop-color="#c8a040"/><stop offset="0.3" stop-color="#e05868"/><stop offset="0.6" stop-color="#b040b0"/><stop offset="1" stop-color="#5a38c8"/></linearGradient>
<polygon points="119.9,165.9 121.0,164.4 122.1,163.5 123.2,161.0 124.3,161.1 125.4,157.9 126.5,158.7 127.7,154.4 128.8,156.2 129.9,150.8 131.0,153.8 132.1,148.4 133.2,149.3 134.6,148.6 136.0,148.5 137.4,147.4 138.8,147.4 140.2,146.0 141.6,146.2 143.0,145.2 144.4,145.1 145.8,143.8 147.1,144.0 148.5,143.0 149.9,142.8 151.3,141.7 152.7,141.7 154.1,140.6 155.5,140.2 155.5,149.8" fill="url(#w1)"/>
</g>
<g filter="url(#bl)">
<polygon points="204.6,71.5 236.8,96.0 335.2,51.800000000000004 335.2,53.6 236.8,97.8 204.6,72.58" fill="#10b4e4"/>
<polygon points="204.6,71.5 236.8,96.0 335.2,51.800000000000004 299,35.4" fill="url(#cy)"/>
<path d="M204.6 71.5L236.8 96.0L335.2 51.800000000000004" fill="none" stroke="#0c78c0" stroke-width="0.7"/>
<path d="M312.1 60.2L313.3 55.9L314.5 60.2M245.5 84.4L246.5 82.2L247.5 84.4M285.0 72.5L286.1 69.0L287.2 72.5M287.2 71.7L288.5 66.1L289.8 71.7M263.5 82.5L264.4 80.7L265.4 82.5M251.1 77.4L251.9 76.1L252.8 77.4M255.8 79.0L256.9 75.7L258.0 79.0M314.9 55.3L315.7 54.4L316.6 55.3M264.0 74.3L265.2 69.8L266.4 74.3M304.2 53.4L305.1 52.1L306.0 53.4M272.7 77.6L274.0 72.0L275.3 77.6M266.2 75.4L267.1 74.0L268.0 75.4M295.7 61.7L297.1 54.7L298.6 61.7M280.0 75.2L281.2 70.5L282.4 75.2M272.9 78.4L273.8 76.2L274.8 78.4M271.8 69.1L273.1 63.0L274.5 69.1M282.5 72.5L283.6 69.7L284.6 72.5M258.6 73.5L259.7 70.6L260.7 73.5M274.3 75.8L275.4 72.4L276.5 75.8M275.1 73.6L276.1 71.1L277.1 73.6M288.8 67.1L289.9 63.8L291.0 67.1M258.0 81.7L259.0 79.7L259.9 81.7M296.0 64.1L297.3 59.0L298.6 64.1M285.4 65.7L286.4 62.5L287.5 65.7M277.7 75.3L278.6 73.1L279.6 75.3M249.9 80.1L250.7 79.0L251.6 80.1M280.4 69.5L282.0 61.4L283.6 69.5M263.3 81.3L264.3 78.7L265.3 81.3M292.2 60.3L293.5 54.7L294.8 60.3M261.3 84.2L262.2 82.1L263.2 84.2M310.1 53.0L311.0 51.2L312.0 53.0M299.8 54.5L300.9 51.7L301.9 54.5M292.8 66.1L294.2 59.8L295.5 66.1M290.8 68.6L292.4 60.2L294.0 68.6M306.6 56.9L307.7 53.5L308.8 56.9M265.0 78.4L265.9 76.9L266.9 78.4M255.6 86.8L256.5 85.9L257.3 86.8M262.4 76.9L263.5 72.7L264.7 76.9M298.0 55.7L299.0 53.2L300.0 55.7M291.6 63.8L292.9 58.3L294.2 63.8M286.3 59.4L287.7 53.0L289.1 59.4M299.6 64.3L300.7 60.6L301.8 64.3M279.1 75.7L280.1 73.9L281.0 75.7M298.5 61.8L299.7 57.2L300.9 61.8M285.2 50.7L286.1 49.1L287.1 50.7M301.3 48.9L302.2 47.0L303.2 48.9M271.4 56.7L272.5 54.1L273.5 56.7M281.2 58.2L282.1 56.3L283.1 58.2M288.0 53.5L288.9 51.4L289.9 53.5M274.1 52.7L274.9 51.6L275.8 52.7M289.7 56.0L290.5 54.8L291.4 56.0M294.3 50.7L295.3 48.5L296.2 50.7M281.2 62.4L282.1 61.1L283.0 62.4M299.4 53.4L300.4 51.2L301.4 53.4M322.5 50.4L323.4 48.7L324.3 50.4M309.5 42.6L310.4 41.6L311.2 42.6M311.4 44.2L312.3 43.2L313.1 44.2M309.3 49.8L310.1 48.7L311.0 49.8M300.4 42.5L301.3 41.4L302.1 42.5M303.7 42.8L304.7 40.3L305.7 42.8M238.4 89.8L239.2 89.2L240.0 89.8M244.3 87.3L245.1 86.6L246.0 87.3M249.5 85.8L250.3 84.4L251.2 85.8M248.6 84.5L249.5 83.6L250.3 84.5M233.9 91.3L235.2 85.3L236.6 91.3" fill="#2436b8"/>
<path d="M244.1 80.9L244.9 79.7L245.8 80.9M249.4 79.1L250.3 77.8L251.2 79.1M279.4 64.5L280.8 58.0L282.3 64.5M300.4 54.7L301.5 51.8L302.5 54.7M293.0 65.0L294.2 60.0L295.4 65.0M255.2 86.3L256.1 84.5L257.0 86.3M282.3 64.6L283.3 62.0L284.3 64.6M259.0 85.3L259.9 83.6L260.8 85.3M299.2 65.1L300.1 63.1L301.1 65.1M250.4 89.2L251.2 88.6L252.0 89.2M261.4 83.2L262.5 80.1L263.5 83.2M281.9 74.1L283.2 68.4L284.5 74.1M302.3 52.1L303.4 48.6L304.5 52.1M308.1 57.0L309.2 53.6L310.3 57.0M254.9 83.3L256.0 80.5L257.0 83.3M281.6 71.7L282.6 69.5L283.6 71.7M268.9 79.3L270.0 76.1L271.1 79.3M273.6 74.7L274.7 70.5L275.9 74.7M258.3 80.1L259.2 77.7L260.2 80.1M272.7 76.8L273.6 75.4L274.5 76.8M309.1 57.7L310.2 54.8L311.2 57.7M297.0 56.6L298.1 53.2L299.1 56.6M297.0 63.3L298.4 57.4L299.7 63.3M296.4 57.5L297.8 51.0L299.2 57.5M262.3 75.9L263.3 73.7L264.2 75.9M282.6 70.0L284.2 61.8L285.7 70.0M260.8 72.6L261.9 69.1L263.0 72.6M285.5 59.7L286.9 53.0L288.3 59.7M276.2 76.9L277.5 70.5L278.9 76.9M309.0 56.4L310.1 53.1L311.2 56.4M260.3 84.1L261.4 80.9L262.5 84.1M244.5 82.7L245.3 82.1L246.1 82.7M262.1 83.8L263.2 80.5L264.3 83.8M270.2 79.9L271.2 77.6L272.1 79.9M260.1 76.6L261.1 74.5L262.1 76.6M254.9 75.4L255.9 72.6L256.9 75.4M246.8 80.3L247.6 79.6L248.5 80.3M274.1 71.5L275.3 66.2L276.6 71.5M305.3 62.0L306.3 59.7L307.3 62.0M298.7 66.3L299.7 64.3L300.6 66.3M273.2 77.5L274.2 75.3L275.2 77.5M310.8 54.3L311.9 51.3L312.9 54.3M292.9 69.5L293.9 67.5L294.8 69.5M282.5 74.5L283.8 69.1L285.1 74.5M259.2 83.1L260.1 81.6L261.0 83.1M246.0 81.3L246.8 80.8L247.6 81.3M273.5 68.4L274.7 64.1L275.9 68.4M286.8 53.6L287.7 51.8L288.6 53.6M285.3 59.0L286.2 57.9L287.0 59.0M291.4 53.7L292.2 52.7L293.1 53.7M281.8 64.3L282.8 61.8L283.7 64.3M295.5 49.9L296.5 47.2L297.5 49.9M284.2 59.3L285.2 56.4L286.3 59.3M321.4 47.8L322.3 46.7L323.2 47.8M317.5 53.2L318.5 50.9L319.5 53.2M314.5 46.0L315.4 44.2L316.3 46.0M319.8 46.4L320.6 45.1L321.5 46.4M244.2 87.1L245.1 85.8L245.9 87.1M248.0 82.8L248.8 82.2L249.6 82.8M247.2 81.4L248.0 80.8L248.8 81.4M240.7 86.9L241.6 85.6L242.5 86.9M245.5 83.0L246.4 81.5L247.3 83.0M234.2 91.3L235.0 90.7L235.8 91.3M245.1 83.5L246.0 82.2L246.8 83.5M245.8 81.8L246.6 81.0L247.5 81.8" fill="#3040cc"/>
<path d="M259.5 85.0L260.3 83.8L261.2 85.0M260.4 75.6L261.5 72.3L262.5 75.6M286.7 67.7L288.0 62.2L289.3 67.7M249.3 83.5L250.2 82.5L251.0 83.5M266.5 76.5L267.4 75.0L268.3 76.5M303.6 61.9L304.6 59.0L305.7 61.9M257.4 86.0L258.3 84.8L259.2 86.0M243.7 83.3L244.6 82.3L245.4 83.3M269.0 72.4L269.9 70.8L270.8 72.4M249.8 89.4L250.7 87.8L251.6 89.4M310.8 57.0L311.9 53.7L313.0 57.0M263.9 80.5L265.1 76.2L266.3 80.5M315.0 59.0L316.0 57.1L316.9 59.0M271.0 73.3L272.2 69.0L273.4 73.3M312.2 55.8L313.2 52.8L314.3 55.8M267.0 81.6L268.1 78.0L269.2 81.6M273.3 73.3L274.2 71.0L275.2 73.3M285.7 72.9L287.1 66.2L288.6 72.9M310.6 61.1L311.6 59.1L312.5 61.1M291.4 70.0L292.7 64.4L294.1 70.0M272.7 73.6L274.0 68.6L275.2 73.6M257.1 86.1L257.9 85.5L258.7 86.1M251.3 88.7L252.2 86.6L253.2 88.7M290.7 60.9L292.0 55.1L293.4 60.9M271.2 77.6L272.4 72.7L273.7 77.6M262.0 70.5L263.0 68.3L263.9 70.5M273.3 76.9L274.6 71.1L276.0 76.9M280.0 73.6L281.2 68.3L282.5 73.6M278.6 76.4L279.6 74.9L280.5 76.4M300.8 54.1L301.8 51.3L302.8 54.1M297.9 62.4L299.2 56.7L300.6 62.4M264.0 79.0L265.2 74.8L266.3 79.0M311.8 60.4L313.0 56.1L314.2 60.4M265.1 78.0L266.2 74.6L267.2 78.0M277.0 75.5L278.1 71.6L279.3 75.5M298.1 66.4L299.0 64.4L300.0 66.4M316.1 58.5L316.9 57.2L317.8 58.5M282.6 73.9L283.6 71.6L284.5 73.9M293.1 65.3L294.2 61.7L295.3 65.3M267.8 76.4L268.7 74.9L269.6 76.4M259.2 77.8L260.2 75.8L261.1 77.8M273.5 67.3L274.4 65.2L275.4 67.3M244.0 85.1L244.9 84.5L245.7 85.1M290.6 59.9L291.7 56.5L292.8 59.9M252.1 80.0L253.0 78.3L253.9 80.0M255.5 86.8L256.5 84.2L257.5 86.8M295.4 61.0L296.9 53.9L298.3 61.0M268.7 57.1L269.5 56.0L270.4 57.1M297.2 49.7L298.0 48.6L298.9 49.7M280.1 64.0L280.9 63.0L281.8 64.0M277.3 53.3L278.2 52.0L279.0 53.3M296.7 50.8L297.6 49.0L298.6 50.8M269.4 58.0L270.2 56.8L271.1 58.0M288.7 55.9L289.7 53.6L290.6 55.9M297.7 49.7L298.6 48.0L299.5 49.7M282.2 61.7L283.1 60.5L284.0 61.7M286.2 49.6L287.1 48.4L287.9 49.6M306.5 48.3L307.5 46.0L308.5 48.3M311.9 45.1L312.8 43.4L313.7 45.1M311.1 46.5L312.0 45.5L312.8 46.5M310.5 42.2L311.4 41.2L312.2 42.2M245.7 89.0L246.5 88.1L247.3 89.0M257.8 84.7L258.6 84.2L259.4 84.7M256.7 84.7L257.6 84.1L258.4 84.7M237.8 85.5L238.6 84.2L239.5 85.5M259.2 82.8L260.1 81.5L260.9 82.8M241.3 88.1L242.1 87.5L243.0 88.1M251.8 82.4L252.7 80.9L253.6 82.4M249.1 87.3L249.9 86.4L250.7 87.3M256.2 82.3L257.1 81.4L257.9 82.3" fill="#4428a8"/>
<path d="M287.7 68.5L288.8 65.1L289.9 68.5M310.8 54.7L311.7 53.1L312.6 54.7M293.8 69.1L294.9 65.2L296.1 69.1M273.0 78.3L273.8 77.1L274.7 78.3M277.5 71.1L278.5 68.6L279.5 71.1M308.0 54.3L308.9 52.3L309.9 54.3M288.1 69.9L289.2 66.6L290.3 69.9M296.1 63.3L297.0 61.6L298.0 63.3M302.2 62.9L303.1 61.2L304.0 62.9M268.9 80.6L269.9 78.4L270.8 80.6M297.6 66.8L298.7 63.1L299.8 66.8M261.8 80.0L262.9 77.0L263.9 80.0M267.1 74.1L268.1 71.9L269.1 74.1M283.9 70.7L285.1 66.4L286.2 70.7M274.0 68.1L275.3 62.8L276.5 68.1M309.1 55.2L310.0 53.2L311.0 55.2M250.0 89.3L250.8 88.8L251.6 89.3M314.5 55.7L315.4 54.5L316.3 55.7M263.9 81.2L264.9 78.7L265.9 81.2M287.6 69.8L288.7 66.8L289.7 69.8M277.1 76.6L278.1 74.2L279.1 76.6M258.7 76.3L259.9 71.9L261.1 76.3M260.5 74.9L261.4 73.4L262.3 74.9M277.9 66.5L279.0 63.3L280.1 66.5M257.9 85.7L259.0 82.8L260.0 85.7M255.2 82.2L256.0 81.4L256.8 82.2M312.3 56.1L313.1 54.9L314.0 56.1M260.8 72.6L261.6 71.3L262.5 72.6M287.5 71.6L289.1 63.4L290.7 71.6M261.2 81.8L262.3 78.6L263.4 81.8M261.5 71.7L262.4 70.2L263.3 71.7M249.7 89.5L250.5 89.0L251.3 89.5M269.7 78.3L270.7 76.4L271.6 78.3M254.0 87.5L254.9 86.0L255.8 87.5M255.3 84.9L256.2 84.0L257.0 84.9M296.4 57.6L297.3 55.4L298.3 57.6M277.7 61.4L278.6 59.6L279.5 61.4M300.8 54.4L301.8 52.3L302.7 54.4M280.3 51.9L281.3 49.2L282.3 51.9M274.4 59.5L275.3 58.3L276.1 59.5M276.4 60.5L277.4 57.7L278.4 60.5M279.6 57.7L280.6 55.8L281.5 57.7M308.9 44.3L309.7 43.0L310.6 44.3M321.1 48.5L321.9 47.3L322.8 48.5M318.8 46.6L319.7 44.9L320.6 46.6M309.9 50.0L310.9 48.1L311.8 50.0M257.2 82.6L258.1 81.5L258.9 82.6M235.6 94.9L236.4 94.4L237.2 94.9M250.1 83.8L250.9 83.3L251.7 83.8M234.6 89.5L235.5 88.4L236.3 89.5M231.3 91.7L232.1 90.7L233.0 91.7" fill="#2850d0"/>
<path d="M244.4 78.9L245.4 76.3L246.4 78.9M298.1 67.1L299.0 64.9L300.0 67.1M251.9 88.3L252.7 87.4L253.6 88.3M293.1 68.5L294.3 64.2L295.4 68.5M260.5 74.2L261.4 72.5L262.3 74.2M282.6 68.4L284.2 60.8L285.7 68.4M255.0 83.4L255.9 81.4L256.9 83.4M271.9 79.4L273.0 76.0L274.1 79.4M302.4 59.5L303.6 54.6L304.8 59.5M276.0 75.4L277.0 72.6L278.1 75.4M300.8 56.5L301.8 54.2L302.7 56.5M297.9 65.7L298.9 63.5L299.9 65.7M290.3 67.3L291.6 62.1L292.8 67.3M307.6 62.3L308.5 60.8L309.4 62.3M291.3 64.5L292.8 56.5L294.3 64.5M307.9 54.5L309.1 50.1L310.3 54.5M312.2 58.3L313.1 56.5L314.0 58.3M250.3 89.2L251.1 88.1L252.0 89.2M300.2 65.0L301.3 61.7L302.4 65.0M250.3 82.0L251.2 80.3L252.1 82.0M249.5 83.7L250.4 83.1L251.2 83.7M270.7 79.8L272.0 75.2L273.2 79.8M311.5 60.2L312.7 55.6L313.9 60.2M278.3 70.9L279.8 63.6L281.3 70.9M252.8 83.1L253.6 82.4L254.4 83.1M280.0 75.7L281.1 72.2L282.2 75.7M286.2 62.1L287.5 56.9L288.8 62.1M274.1 77.4L275.0 76.0L275.8 77.4M270.7 70.5L271.9 65.8L273.1 70.5M305.2 53.1L306.3 50.2L307.3 53.1M291.7 64.9L292.7 62.7L293.7 64.9M279.7 72.8L280.7 70.8L281.6 72.8M261.8 81.9L262.7 80.9L263.5 81.9M256.3 82.7L257.1 81.9L258.0 82.7M310.9 60.6L311.8 59.2L312.7 60.6M261.5 77.0L262.4 75.8L263.2 77.0M294.7 68.2L295.9 63.3L297.2 68.2M314.9 56.4L316.1 52.3L317.2 56.4M318.1 57.5L319.0 55.6L320.0 57.5M280.7 75.4L281.6 73.7L282.5 75.4M288.4 53.0L289.3 51.7L290.2 53.0M307.3 53.6L308.2 52.6L309.1 53.6M288.0 56.8L289.0 54.9L289.9 56.8M298.4 50.7L299.3 49.1L300.2 50.7M290.0 58.2L290.9 56.9L291.8 58.2M274.1 56.3L275.1 53.6L276.1 56.3M289.2 56.9L290.1 55.8L290.9 56.9M279.2 61.1L280.1 60.0L280.9 61.1M310.0 42.6L310.9 41.4L311.7 42.6M308.9 47.4L309.8 46.2L310.7 47.4M312.0 45.8L312.8 44.5L313.7 45.8M302.5 42.6L303.5 40.8L304.4 42.6M321.5 47.8L322.3 46.6L323.2 47.8M322.0 51.3L322.9 50.0L323.8 51.3M314.0 48.6L314.9 47.5L315.7 48.6M235.2 90.7L236.0 90.0L236.8 90.7M261.3 82.4L262.2 81.3L263.0 82.4M233.7 87.1L234.5 86.6L235.3 87.1M247.7 81.8L248.6 80.4L249.5 81.8M254.3 81.4L255.2 80.0L256.1 81.4M244.7 84.2L245.5 83.3L246.3 84.2M246.3 85.2L247.2 84.1L248.1 85.2M274.0 60.9L275.6 51.9L277.3 60.9M287.1 53.9L288.4 48.9L289.6 53.9" fill="#5626a0"/>
<path d="M276.6 70.9L277.8 65.9L279.1 70.9M257.7 83.6L258.5 82.7L259.3 83.6M268.8 71.0L269.7 69.5L270.6 71.0M255.6 84.8L256.5 84.1L257.3 84.8M268.6 74.1L269.7 70.1L270.9 74.1M276.4 68.0L277.5 64.0L278.7 68.0M312.2 56.7L313.4 52.3L314.6 56.7M247.9 85.4L248.9 83.1L249.9 85.4M297.8 66.5L298.8 63.7L299.8 66.5M261.4 77.7L262.5 74.6L263.5 77.7M287.6 60.6L289.0 54.4L290.4 60.6M276.4 76.6L277.4 73.8L278.4 76.6M275.1 78.0L276.1 75.0L277.2 78.0M254.7 75.8L255.6 73.8L256.6 75.8M266.7 71.1L268.0 65.3L269.3 71.1M269.1 71.6L270.0 69.8L271.0 71.6M263.3 82.8L264.4 79.1L265.5 82.8M300.0 56.6L301.0 54.8L301.9 56.6M286.0 63.7L287.2 59.5L288.4 63.7M297.5 65.8L299.0 58.5L300.5 65.8M266.4 81.9L267.4 79.3L268.4 81.9M295.9 67.6L297.0 63.9L298.1 67.6M286.8 68.7L288.3 60.6L289.9 68.7M270.2 68.1L271.3 65.0L272.4 68.1M300.7 64.8L301.8 60.9L303.0 64.8M301.6 62.8L303.0 55.9L304.5 62.8M257.1 85.5L257.9 84.7L258.8 85.5M259.5 84.9L260.6 82.2L261.6 84.9M274.6 77.7L275.9 72.1L277.2 77.7M297.8 57.4L299.0 53.3L300.1 57.4M262.9 81.4L264.0 78.2L265.0 81.4M274.6 78.2L275.6 75.2L276.6 78.2M310.5 59.5L311.8 54.8L313.0 59.5M311.2 59.2L312.1 58.0L312.9 59.2M254.2 87.4L255.0 86.2L255.9 87.4M308.1 61.2L309.0 59.7L309.9 61.2M304.0 57.8L305.0 55.3L306.0 57.8M303.6 54.8L304.6 52.0L305.6 54.8M293.5 57.9L294.4 56.3L295.3 57.9M254.8 86.9L255.7 84.6L256.7 86.9M299.6 53.2L300.5 51.9L301.4 53.2M299.7 66.1L301.2 59.3L302.6 66.1M253.5 87.7L254.5 85.4L255.5 87.7M300.1 65.3L301.0 63.4L302.0 65.3M259.1 85.2L260.0 83.7L260.9 85.2M310.8 54.4L312.0 50.2L313.1 54.4M244.3 81.3L245.3 78.9L246.3 81.3M286.7 55.4L287.6 53.4L288.6 55.4M280.2 60.6L281.0 59.3L281.9 60.6M293.2 46.5L294.2 43.7L295.2 46.5M291.6 49.4L292.5 47.4L293.5 49.4M288.0 53.8L288.9 52.0L289.8 53.8M274.2 62.4L275.2 60.4L276.1 62.4M285.4 57.5L286.2 56.5L287.1 57.5M270.2 55.1L271.2 52.3L272.3 55.1M278.0 58.5L278.9 57.1L279.8 58.5M268.6 55.0L269.7 52.1L270.7 55.0M289.3 49.2L290.2 47.5L291.1 49.2M296.0 56.3L297.0 54.6L297.9 56.3M293.4 56.7L294.4 53.8L295.5 56.7M283.3 50.8L284.3 48.3L285.3 50.8M314.6 51.3L315.5 50.2L316.3 51.3M300.7 40.8L301.6 39.1L302.5 40.8M316.5 50.5L317.4 48.8L318.3 50.5M323.1 49.3L324.0 48.0L324.9 49.3M312.3 44.1L313.1 43.0L314.0 44.1M247.8 86.8L248.6 85.5L249.5 86.8M248.0 88.8L248.8 88.0L249.7 88.8M263.3 81.7L264.2 80.4L265.1 81.7M232.1 92.6L232.9 92.1L233.7 92.6M254.8 82.1L255.6 81.4L256.5 82.1M242.7 87.4L243.6 86.2L244.4 87.4M259.5 84.3L260.4 83.3L261.2 84.3" fill="#1c2c98"/>
<path d="M283.2 65.5L284.2 60.8L285.1 65.5M291.9 67.9L292.7 64.4L293.6 67.9M290.8 65.3L291.6 62.1L292.4 65.3M298.1 63.0L299.0 58.5L299.9 63.0M282.4 71.9L283.2 68.4L284.0 71.9M296.5 62.2L297.3 59.0L298.1 62.2M278.9 68.1L279.8 63.6L280.7 68.1M286.0 57.2L286.9 53.0L287.8 57.2M300.3 63.5L301.2 59.3L302.0 63.5M274.6 57.4L275.6 51.9L276.7 57.4" fill="#a82890"/>
<path d="M267.2 68.9L268.0 65.3L268.8 68.9M281.0 66.4L282.0 61.4L283.0 66.4M286.7 60.1L287.5 56.9L288.3 60.1M288.1 68.5L289.1 63.4L290.1 68.5M286.9 57.0L287.7 53.0L288.6 57.0" fill="#b83078"/>
<path d="M288.1 58.3L289.0 54.4L289.8 58.3M296.2 59.0L297.1 54.7L298.0 59.0M272.3 66.8L273.1 63.0L274.0 66.8M291.8 61.5L292.8 56.5L293.8 61.5M291.2 58.7L292.0 55.1L292.9 58.7M280.4 71.6L281.2 68.3L282.0 71.6M302.1 60.2L303.0 55.9L303.9 60.2M275.1 75.6L275.9 72.1L276.7 75.6M283.2 66.8L284.2 61.8L285.1 66.8M293.3 63.7L294.2 59.8L295.0 63.7M276.7 74.4L277.5 70.5L278.4 74.4M283.0 72.5L283.8 69.1L284.6 72.5" fill="#8a2cb0"/>
<path d="M280.0 62.0L280.8 58.0L281.7 62.0M273.8 74.7L274.6 71.1L275.5 74.7M296.9 55.0L297.8 51.0L298.7 55.0M291.4 65.4L292.4 60.2L293.4 65.4M274.5 69.5L275.3 66.2L276.1 69.5M296.0 58.3L296.9 53.9L297.8 58.3" fill="#c83c60"/>
<path d="M287.7 69.6L288.5 66.1L289.3 69.6M273.2 75.5L274.0 72.0L274.8 75.5M274.5 66.1L275.3 62.8L276.1 66.1M287.3 65.6L288.3 60.6L289.3 65.6M298.4 60.3L299.2 56.7L300.0 60.3M297.5 61.0L298.4 57.4L299.2 61.0M292.7 58.2L293.5 54.7L294.3 58.2M292.1 61.7L292.9 58.3L293.7 61.7M234.4 89.0L235.2 85.3L236.1 89.0" fill="#7030c0"/>
<path d="M287.2 65.6L288.0 62.2L288.8 65.6M286.3 70.4L287.1 66.2L288.0 70.4" fill="#9c2c9c"/>
<path d="M288.6 65.7L289.1 63.4L289.6 65.7M300.7 61.2L301.2 59.3L301.6 61.2M275.2 54.4L275.6 51.9L276.1 54.4" fill="#60d040"/>
<path d="M283.7 62.9L284.2 60.8L284.6 62.9M286.7 68.1L287.1 66.2L287.6 68.1M298.6 60.5L299.0 58.5L299.5 60.5M292.3 58.7L292.8 56.5L293.3 58.7M287.8 62.9L288.3 60.6L288.8 62.9M279.4 65.7L279.8 63.6L280.2 65.7M297.4 52.8L297.8 51.0L298.2 52.8" fill="#e8d040"/>
<path d="M280.4 59.8L280.8 58.0L281.3 59.8M286.5 54.9L286.9 53.0L287.3 54.9M296.4 55.9L296.9 53.9L297.3 55.9" fill="#f07040"/>
<path d="M296.7 56.6L297.1 54.7L297.6 56.6M302.6 57.8L303.0 55.9L303.4 57.8M281.5 63.6L282.0 61.4L282.5 63.6M283.7 64.1L284.2 61.8L284.6 64.1M291.9 62.5L292.4 60.2L292.9 62.5" fill="#e04848"/>
<path d="M301.0 43.3L320.6 51.7" stroke="#8048c0" stroke-width="1.7" opacity="0.85"/>
<path d="M300.2 39.5L315.5 45.8" stroke="#4860d8" stroke-width="1.3" opacity="0.85"/>
<linearGradient id="r2" gradientUnits="userSpaceOnUse" x1="285.5" y1="33.5" x2="312.7" y2="49.8"><stop offset="0" stop-color="#f09478"/><stop offset="0.3" stop-color="#d06890"/><stop offset="0.65" stop-color="#9850b8"/><stop offset="1" stop-color="#6848c8"/></linearGradient>
<polygon points="284.6,37.9 284.8,33.5 287.3,34.2 314.3,49.6 313.7,52.4 311.2,52.4" fill="url(#r2)"/>
<polygon points="284.6,37.9 284.7,35.7 312.9,51.0 313.7,52.4 311.2,52.4" fill="#4030b8" opacity="0.6"/>
<path d="M284.6 37.9L311.2 52.4" stroke="#3038b8" stroke-width="0.9" opacity="0.8"/>
<linearGradient id="w2" gradientUnits="userSpaceOnUse" x1="325.4" y1="47.9" x2="328.5" y2="55.6"><stop offset="0" stop-color="#a8b050"/><stop offset="0.14" stop-color="#d87850"/><stop offset="0.3" stop-color="#c84c80"/><stop offset="0.6" stop-color="#9c3ca8"/><stop offset="1" stop-color="#5038c0"/></linearGradient>
<polygon points="305.7,65.1 306.5,63.7 307.3,63.1 308.1,61.0 309.0,61.2 309.8,58.3 310.6,59.2 311.4,55.4 312.2,57.3 313.1,54.8 313.9,55.4 314.7,52.4 315.5,51.6 317.2,49.6 318.8,53.0 320.4,48.5 322.1,51.7 323.7,48.2 325.4,50.4 327.0,45.9 328.6,49.1 330.3,42.5 331.9,47.8 333.6,44.4 335.2,44.2 335.2,51.8" fill="url(#w2)"/>
</g>
<g filter="url(#bl)">
<polygon points="203.7,169.5 237.2,194.39999999999998 335.2,147.2 335.2,149.0 237.2,196.2 203.7,170.58" fill="#10b4e4"/>
<polygon points="203.7,169.5 237.2,194.39999999999998 335.2,147.2 297.4,133" fill="url(#cy)"/>
<path d="M203.7 169.5L237.2 194.39999999999998L335.2 147.2" fill="none" stroke="#0c78c0" stroke-width="0.7"/>
<path d="M288.2 152.8L289.4 148.1L290.6 152.8M283.7 166.3L284.7 163.7L285.7 166.3M280.0 161.2L281.1 158.2L282.1 161.2M292.2 162.2L293.1 161.2L293.9 162.2M280.1 165.9L281.2 162.5L282.3 165.9M282.8 162.9L283.9 159.5L285.0 162.9M282.1 164.5L283.0 163.4L283.8 164.5M288.6 159.9L289.6 157.6L290.6 159.9M295.4 156.2L296.6 152.2L297.7 156.2M254.1 178.3L255.0 176.3L256.0 178.3M289.3 160.5L290.1 159.5L291.0 160.5M262.5 177.5L263.4 175.9L264.3 177.5M259.1 181.7L260.2 178.4L261.3 181.7M279.2 164.4L280.2 161.5L281.2 164.4M269.4 171.5L270.5 167.8L271.6 171.5M281.1 151.2L282.1 149.2L283.0 151.2M270.8 173.4L271.8 170.1L272.9 173.4M307.9 150.0L308.8 149.0L309.6 150.0M265.9 166.4L267.0 163.3L268.0 166.4M306.8 154.1L307.8 151.5L308.8 154.1M272.9 168.5L273.7 167.3L274.6 168.5M277.5 158.6L278.3 157.5L279.2 158.6M281.4 158.7L282.4 156.3L283.4 158.7M311.3 148.4L312.2 146.8L313.2 148.4M274.7 169.6L275.6 167.1L276.6 169.6M278.8 165.4L279.9 161.8L281.0 165.4M298.2 161.7L299.1 159.5L300.1 161.7M297.7 160.3L298.5 159.3L299.4 160.3M290.1 162.8L291.1 160.5L292.0 162.8M260.2 167.2L261.1 166.0L261.9 167.2M290.1 162.0L291.1 159.5L292.1 162.0M281.8 164.9L282.7 163.3L283.6 164.9M293.6 157.6L294.5 156.0L295.4 157.6M309.3 151.4L310.2 150.1L311.1 151.4M284.4 168.3L285.2 167.3L286.1 168.3M273.1 171.1L274.0 169.4L274.9 171.1M294.8 162.2L295.9 158.2L297.1 162.2M293.2 160.0L294.3 157.2L295.3 160.0M282.2 164.1L283.1 162.7L284.0 164.1M278.4 150.6L279.2 150.1L280.0 150.6M293.0 149.5L293.8 148.9L294.6 149.5M252.6 183.4L253.4 182.6L254.2 183.4M237.0 188.7L237.8 188.3L238.6 188.7M256.6 177.3L257.4 176.9L258.1 177.3" fill="#2436b8"/>
<path d="M281.5 165.3L282.6 162.4L283.6 165.3M287.9 159.9L288.7 158.8L289.6 159.9M319.0 151.9L320.1 149.2L321.1 151.9M278.5 161.5L279.4 160.0L280.3 161.5M277.2 170.3L278.4 166.3L279.5 170.3M283.3 163.2L284.1 162.2L285.0 163.2M260.1 182.3L261.2 178.9L262.3 182.3M273.0 169.2L274.0 167.1L274.9 169.2M308.7 155.6L309.5 154.4L310.4 155.6M288.1 152.4L289.1 149.4L290.2 152.4M286.1 163.9L287.2 160.6L288.2 163.9M296.8 153.3L298.0 148.9L299.2 153.3M294.9 158.1L295.8 156.9L296.6 158.1M281.6 167.4L282.8 162.9L284.0 167.4M305.5 160.6L306.4 159.5L307.2 160.6M252.3 177.1L253.2 175.7L254.1 177.1M291.4 167.0L292.3 165.7L293.2 167.0M284.7 154.1L285.7 152.1L286.6 154.1M277.7 160.1L278.7 157.3L279.8 160.1M257.2 174.7L258.2 172.8L259.1 174.7M298.5 155.5L299.6 152.2L300.7 155.5M305.7 151.5L306.8 148.3L307.9 151.5M282.3 161.3L283.2 159.4L284.2 161.3M289.7 164.3L290.8 161.3L291.8 164.3M297.8 157.6L298.8 154.9L299.9 157.6M296.2 154.6L297.3 151.4L298.3 154.6M272.9 176.1L274.0 172.7L275.0 176.1M291.7 157.4L292.7 154.9L293.7 157.4M282.5 162.7L283.7 158.3L284.9 162.7M287.7 162.4L288.9 157.7L290.1 162.4M313.5 152.7L314.4 151.6L315.2 152.7M273.6 163.5L274.4 162.5L275.3 163.5M288.8 154.3L289.9 151.6L290.9 154.3M254.3 178.4L255.1 177.3L256.0 178.4M280.4 162.2L281.5 158.3L282.7 162.2M297.5 154.1L298.4 152.7L299.3 154.1M293.2 161.2L294.0 160.1L294.9 161.2M267.3 169.7L268.2 168.0L269.1 169.7M284.7 161.5L285.6 159.6L286.5 161.5M291.5 161.1L292.5 157.7L293.6 161.1M274.9 147.1L275.8 145.6L276.7 147.1M302.0 138.7L302.8 137.8L303.7 138.7M271.8 152.4L272.6 151.6L273.4 152.4M279.5 154.5L280.4 153.1L281.3 154.5M297.2 143.0L298.0 142.3L298.9 143.0M254.8 183.8L255.6 183.4L256.4 183.8M240.2 185.3L241.0 184.8L241.8 185.3" fill="#3040cc"/>
<path d="M287.7 158.2L288.5 156.9L289.4 158.2M284.1 167.3L285.2 163.5L286.4 167.3M268.0 169.7L268.9 168.0L269.8 169.7M272.2 163.6L273.3 160.2L274.4 163.6M291.3 161.3L292.3 159.0L293.3 161.3M297.1 153.9L298.1 150.8L299.2 153.9M286.2 153.2L287.2 150.4L288.2 153.2M289.5 155.9L290.6 152.7L291.7 155.9M279.5 161.9L280.5 159.2L281.6 161.9M301.7 158.7L302.5 157.6L303.4 158.7M265.0 171.3L265.8 170.4L266.7 171.3M255.4 179.2L256.4 176.9L257.4 179.2M273.4 161.6L274.6 157.2L275.8 161.6M289.0 158.5L289.8 157.4L290.7 158.5M303.1 139.3L304.2 135.7L305.3 139.3M268.2 174.6L269.4 170.8L270.5 174.6M296.3 158.1L297.5 153.3L298.7 158.1M289.0 161.7L290.1 159.1L291.1 161.7M302.3 154.0L303.5 149.7L304.7 154.0M286.4 162.7L287.5 159.6L288.5 162.7M316.5 150.1L317.7 145.8L318.8 150.1M273.9 161.4L274.9 158.8L275.9 161.4M264.8 173.5L265.8 171.7L266.7 173.5M291.8 159.9L292.6 158.9L293.5 159.9M275.6 162.5L276.6 160.6L277.5 162.5M307.0 157.1L308.2 152.5L309.4 157.1M266.9 176.1L267.8 174.8L268.7 176.1M281.0 168.3L281.8 167.4L282.6 168.3M265.8 178.4L266.8 175.8L267.8 178.4M258.3 175.3L259.4 172.1L260.4 175.3M258.3 179.8L259.2 178.7L260.0 179.8M275.1 161.2L276.1 159.4L277.0 161.2M280.4 164.8L281.5 161.0L282.7 164.8M296.8 151.0L298.0 146.3L299.2 151.0M288.3 164.2L289.3 162.2L290.2 164.2M292.6 164.6L293.7 160.9L294.9 164.6M285.9 155.8L286.7 154.8L287.6 155.8M285.3 164.3L286.5 160.2L287.6 164.3M279.3 165.8L280.5 161.7L281.6 165.8M252.8 176.1L253.7 174.0L254.7 176.1M300.0 152.8L301.0 149.8L302.1 152.8M288.7 159.7L289.5 158.5L290.4 159.7M292.8 166.6L293.8 164.3L294.8 166.6M307.1 159.7L308.3 155.1L309.5 159.7M313.8 151.4L314.8 149.5L315.7 151.4M267.7 175.1L268.8 171.1L270.0 175.1M300.5 162.8L301.7 158.5L302.8 162.8M270.5 171.9L271.4 170.2L272.3 171.9M293.3 155.9L294.2 154.4L295.1 155.9M283.2 158.1L284.1 156.7L285.0 158.1M289.4 149.0L290.3 147.7L291.2 149.0M308.8 142.5L309.7 141.4L310.5 142.5M287.1 150.9L288.0 149.4L288.8 150.9M307.0 142.7L307.9 142.0L308.7 142.7M303.2 144.1L304.1 143.2L304.9 144.1M282.7 148.5L283.5 147.9L284.3 148.5M290.2 143.3L291.0 142.7L291.8 143.3M248.8 182.7L249.6 182.3L250.4 182.7M255.3 178.5L256.1 178.0L256.9 178.5M249.7 183.5L250.6 182.6L251.4 183.5M251.0 184.5L251.8 184.0L252.6 184.5M262.0 178.2L262.9 177.6L263.7 178.2" fill="#4428a8"/>
<path d="M289.4 166.6L290.5 163.6L291.5 166.6M309.4 155.5L310.6 151.8L311.7 155.5M286.1 153.4L287.1 150.0L288.2 153.4M279.4 166.7L280.3 164.6L281.3 166.7M288.5 163.5L289.4 162.3L290.3 163.5M264.1 170.7L265.0 169.1L265.9 170.7M273.1 170.5L274.0 169.4L274.8 170.5M301.4 155.2L302.4 153.5L303.3 155.2M284.7 161.8L285.6 160.2L286.5 161.8M302.3 153.3L303.5 149.1L304.6 153.3M280.0 167.7L280.9 166.2L281.8 167.7M286.3 158.5L287.2 156.9L288.1 158.5M295.5 152.7L296.4 151.6L297.2 152.7M298.4 158.8L299.3 157.0L300.2 158.8M255.9 176.7L256.9 174.4L257.8 176.7M292.9 166.5L294.0 162.6L295.2 166.5M288.4 165.5L289.4 162.8L290.4 165.5M302.8 161.9L303.7 160.4L304.6 161.9M257.5 176.6L258.4 175.4L259.3 176.6M278.3 167.1L279.1 166.2L280.0 167.1M306.4 147.4L307.4 144.8L308.4 147.4M274.3 167.1L275.2 165.7L276.1 167.1M270.0 172.7L271.1 168.6L272.3 172.7M322.6 147.0L323.6 144.4L324.7 147.0M274.9 165.1L275.7 164.0L276.6 165.1M291.8 157.6L292.9 154.0L294.0 157.6M284.0 169.5L285.2 165.0L286.4 169.5M302.1 157.4L303.1 154.6L304.2 157.4M257.1 176.6L258.1 173.5L259.2 176.6M278.0 165.1L279.1 161.9L280.2 165.1M282.5 157.5L283.5 155.5L284.4 157.5M259.2 181.6L260.1 180.5L260.9 181.6M295.2 157.4L296.1 155.8L297.1 157.4M282.1 163.1L283.2 159.8L284.3 163.1M306.0 153.8L307.0 152.0L307.9 153.8M277.7 167.7L278.6 166.2L279.5 167.7M276.6 171.8L277.5 169.9L278.5 171.8M273.5 172.0L274.5 169.7L275.4 172.0M291.9 161.6L293.0 157.8L294.1 161.6M313.8 143.4L314.7 141.8L315.6 143.4M302.8 140.5L303.6 139.9L304.4 140.5M301.8 139.9L302.6 139.0L303.5 139.9M283.9 142.6L284.7 142.0L285.5 142.6M240.9 190.5L241.7 189.9L242.5 190.5M235.7 190.9L236.5 190.3L237.3 190.9M245.6 184.8L246.4 184.4L247.1 184.8M235.8 188.8L236.6 187.9L237.5 188.8M242.5 185.1L243.3 184.4L244.2 185.1M254.3 183.6L255.1 183.2L255.9 183.6M247.5 185.9L248.3 185.6L249.1 185.9" fill="#2850d0"/>
<path d="M300.8 157.3L301.7 156.0L302.6 157.3M274.2 170.0L275.1 168.9L275.9 170.0M286.7 162.8L287.7 160.0L288.7 162.8M288.2 157.3L289.2 154.8L290.2 157.3M295.1 161.2L296.1 158.8L297.1 161.2M281.2 167.6L282.2 165.6L283.1 167.6M275.5 174.7L276.4 173.4L277.3 174.7M262.8 171.5L264.0 167.7L265.1 171.5M281.1 162.0L282.2 158.8L283.2 162.0M278.0 162.1L279.1 158.7L280.2 162.1M273.1 169.4L274.2 165.8L275.3 169.4M287.1 164.9L288.3 160.5L289.5 164.9M296.3 152.6L297.1 151.4L298.0 152.6M280.3 172.6L281.3 170.4L282.3 172.6M255.2 177.8L256.0 176.6L256.9 177.8M277.4 159.5L278.4 157.6L279.3 159.5M286.9 160.6L288.0 156.7L289.2 160.6M290.4 164.8L291.3 163.8L292.1 164.8M291.5 155.2L292.6 151.5L293.7 155.2M277.7 172.2L278.9 167.9L280.1 172.2M291.9 164.0L293.0 160.0L294.2 164.0M288.1 164.0L289.1 161.5L290.1 164.0M280.8 162.3L281.9 159.4L282.9 162.3M283.8 164.8L284.7 162.8L285.7 164.8M286.3 160.8L287.2 159.1L288.1 160.8M299.8 155.3L300.9 151.6L302.1 155.3M288.0 158.5L289.2 154.0L290.4 158.5M282.9 162.3L283.9 159.8L284.9 162.3M289.4 164.9L290.2 163.8L291.1 164.9M275.8 162.0L276.8 158.8L277.9 162.0M285.9 170.0L286.8 168.1L287.8 170.0M279.8 165.7L280.8 163.1L281.8 165.7M288.2 162.5L289.3 159.8L290.3 162.5M284.5 155.0L285.6 151.7L286.6 155.0M276.9 158.5L278.0 155.6L279.0 158.5M300.8 148.0L302.0 144.1L303.1 148.0M291.8 162.3L292.6 161.1L293.5 162.3M295.9 161.1L296.7 160.0L297.6 161.1M258.2 165.8L259.2 163.7L260.1 165.8M308.5 155.7L309.4 154.1L310.3 155.7M275.3 175.1L276.2 173.7L277.1 175.1M280.7 163.9L281.5 162.9L282.4 163.9M267.9 170.5L268.7 169.5L269.6 170.5M291.7 148.7L292.6 147.6L293.5 148.7M287.7 145.0L288.5 144.4L289.3 145.0M294.1 140.9L294.9 140.2L295.7 140.9M271.9 151.7L272.7 150.8L273.6 151.7M277.4 147.1L278.2 145.9L279.1 147.1M285.2 144.6L286.0 144.0L286.8 144.6M288.9 140.7L289.7 140.1L290.6 140.7M269.8 148.5L270.7 147.5L271.5 148.5M287.6 144.0L288.4 143.4L289.2 144.0M260.4 178.2L261.2 177.9L261.9 178.2M242.4 189.8L243.2 189.5L243.9 189.8M237.3 189.1L238.1 188.2L238.9 189.1M246.8 183.9L247.6 183.6L248.3 183.9M240.1 185.7L240.9 185.4L241.7 185.7M253.0 184.7L253.8 184.1L254.6 184.7" fill="#5626a0"/>
<path d="M293.0 160.1L294.1 156.8L295.2 160.1M281.9 163.3L282.8 161.9L283.7 163.3M306.9 147.5L307.8 146.1L308.7 147.5M290.1 154.8L291.2 151.5L292.3 154.8M304.0 156.5L305.0 154.5L305.9 156.5M288.7 165.1L289.7 162.5L290.7 165.1M296.1 159.7L297.3 155.7L298.4 159.7M299.3 148.9L300.2 147.6L301.1 148.9M317.0 144.7L317.8 143.6L318.7 144.7M263.4 175.6L264.3 174.1L265.2 175.6M310.4 154.6L311.3 153.6L312.1 154.6M308.6 154.7L309.5 153.2L310.4 154.7M279.6 173.0L280.5 171.5L281.4 173.0M275.7 171.2L276.6 170.0L277.5 171.2M280.1 164.2L281.2 160.4L282.3 164.2M267.1 168.4L268.2 164.9L269.3 168.4M274.7 163.7L275.6 162.7L276.4 163.7M278.5 167.9L279.4 166.8L280.2 167.9M284.7 153.7L285.6 152.6L286.4 153.7M305.8 152.5L306.8 150.2L307.8 152.5M288.0 159.1L288.9 158.1L289.7 159.1M287.3 155.0L288.2 153.2L289.1 155.0M273.9 158.4L274.9 156.0L275.9 158.4M281.8 158.9L282.8 156.5L283.8 158.9M277.0 160.5L277.9 158.6L278.9 160.5M308.3 150.7L309.2 148.7L310.2 150.7M258.3 181.1L259.3 178.8L260.3 181.1M259.7 182.0L260.8 178.1L262.0 182.0M271.1 165.0L272.2 162.4L273.2 165.0M281.7 162.2L282.7 159.9L283.6 162.2M290.2 161.4L291.0 160.1L291.9 161.4M274.9 167.5L276.0 164.8L277.0 167.5M289.0 167.2L290.0 165.2L290.9 167.2M296.1 148.8L297.2 146.1L298.2 148.8M304.4 153.8L305.4 150.8L306.5 153.8M287.7 152.3L288.5 151.2L289.4 152.3M292.1 161.2L293.0 160.2L293.8 161.2M268.8 174.4L269.7 172.6L270.7 174.4M283.9 146.0L284.8 144.8L285.6 146.0M301.1 141.6L302.0 140.2L302.9 141.6M300.4 138.1L301.3 137.2L302.1 138.1M270.0 147.6L270.9 146.2L271.8 147.6M243.7 184.7L244.5 183.9L245.3 184.7M252.9 182.1L253.7 181.4L254.5 182.1" fill="#1c2c98"/>
<path d="M309.9 154.1L310.6 151.8L311.3 154.1M277.7 168.8L278.4 166.3L279.1 168.8M273.9 159.9L274.6 157.2L275.4 159.9M268.7 173.1L269.4 170.8L270.1 173.1M316.9 148.4L317.7 145.8L318.4 148.4M291.9 153.8L292.6 151.5L293.3 153.8M297.3 151.6L298.0 148.9L298.7 151.6M282.0 165.7L282.8 162.9L283.5 165.7M288.4 156.8L289.2 154.0L289.9 156.8M260.1 180.5L260.8 178.1L261.6 180.5M297.3 149.2L298.0 146.3L298.8 149.2M268.1 173.5L268.8 171.1L269.5 173.5M280.8 160.7L281.5 158.3L282.2 160.7" fill="#a82890"/>
<path d="M284.5 165.8L285.2 163.5L285.9 165.8M296.6 158.1L297.3 155.7L298.0 158.1M263.3 170.0L264.0 167.7L264.7 170.0M296.7 156.3L297.5 153.3L298.3 156.3M293.3 165.0L294.0 162.6L294.8 165.0M280.5 162.8L281.2 160.4L281.9 162.8M300.3 153.9L300.9 151.6L301.6 153.9M307.5 157.9L308.3 155.1L309.0 157.9M300.9 161.2L301.7 158.5L302.4 161.2" fill="#b83078"/>
<path d="M302.8 152.3L303.5 149.7L304.2 152.3M269.8 170.1L270.5 167.8L271.2 170.1M270.4 171.2L271.1 168.6L271.8 171.2M284.4 167.8L285.2 165.0L285.9 167.8M292.3 160.2L293.0 157.8L293.7 160.2" fill="#8a2cb0"/>
<path d="M295.9 154.7L296.6 152.2L297.3 154.7M287.3 159.1L288.0 156.7L288.7 159.1M307.5 155.4L308.2 152.5L309.0 155.4M288.2 160.6L288.9 157.7L289.7 160.6M295.2 160.7L295.9 158.2L296.6 160.7" fill="#c83c60"/>
<path d="M302.7 151.7L303.5 149.1L304.2 151.7M287.6 163.2L288.3 160.5L289.1 163.2M278.2 170.6L278.9 167.9L279.6 170.6M280.8 163.4L281.5 161.0L282.2 163.4M293.0 163.2L293.7 160.9L294.4 163.2M285.8 162.7L286.5 160.2L287.2 162.7M279.8 164.2L280.5 161.7L281.2 164.2" fill="#7030c0"/>
<path d="M288.6 151.0L289.4 148.1L290.2 151.0M303.5 137.9L304.2 135.7L304.9 137.9M292.3 162.5L293.0 160.0L293.7 162.5M282.9 161.0L283.7 158.3L284.4 161.0M301.3 146.5L302.0 144.1L302.7 146.5" fill="#9c2c9c"/>
<path d="M290.6 142.3L299.0 145.1" stroke="#3848d0" stroke-width="1.2" opacity="0.85"/>
<path d="M298.1 139.2L305.8 141.5" stroke="#7038b8" stroke-width="1.6" opacity="0.85"/>
<linearGradient id="w3" gradientUnits="userSpaceOnUse" x1="324.9" y1="146.4" x2="327.1" y2="151.7"><stop offset="0" stop-color="#a8b050"/><stop offset="0.14" stop-color="#d87850"/><stop offset="0.3" stop-color="#c84c80"/><stop offset="0.6" stop-color="#9c3ca8"/><stop offset="1" stop-color="#5038c0"/></linearGradient>
<polygon points="309.7,159.5 310.1,158.8 310.5,158.4 310.9,157.4 311.4,157.4 311.8,156.1 312.2,156.4 312.6,154.9 313.0,155.3 313.4,153.4 313.8,154.3 314.2,152.2 314.6,152.3 316.3,148.3 318.1,152.2 319.8,146.7 321.5,150.3 323.2,145.3 324.9,148.4 326.6,143.1 328.3,146.6 330.1,142.7 331.8,144.7 333.5,141.1 335.2,140.4 335.2,147.2" fill="url(#w3)"/>
</g>
<g filter="url(#bl)">
<polygon points="204.3,266.5 238.6,293.2 335.2,244.39999999999998 335.2,246.2 238.6,295.0 204.3,267.58" fill="#10b4e4"/>
<polygon points="204.3,266.5 238.6,293.2 335.2,244.39999999999998 297.4,231" fill="url(#cy)"/>
<path d="M204.3 266.5L238.6 293.2L335.2 244.39999999999998" fill="none" stroke="#0c78c0" stroke-width="0.7"/>
<path d="M304.6 251.9L305.5 249.7L306.5 251.9M292.7 258.5L293.5 257.5L294.4 258.5M285.6 255.3L286.4 254.5L287.3 255.3M277.3 263.0L278.3 261.4L279.2 263.0M301.8 254.2L302.7 252.3L303.6 254.2M286.5 261.7L287.3 260.9L288.1 261.7M289.2 259.1L290.2 256.0L291.3 259.1M289.0 254.6L289.8 253.2L290.7 254.6M295.3 258.4L296.2 257.6L297.0 258.4M286.9 259.9L287.9 257.4L288.9 259.9M300.7 254.6L301.6 253.7L302.4 254.6M299.1 252.8L299.9 251.7L300.8 252.8M257.8 275.1L258.8 272.1L259.9 275.1M284.8 256.7L285.6 255.9L286.5 256.7M284.9 256.0L285.9 253.7L286.8 256.0M288.0 259.9L288.9 258.9L289.8 259.9M289.1 255.2L289.9 254.4L290.8 255.2M283.1 256.9L283.9 255.9L284.8 256.9M278.8 257.9L279.8 255.5L280.7 257.9M292.2 258.1L293.2 255.8L294.2 258.1M281.4 258.1L282.3 256.4L283.3 258.1M287.5 255.5L288.4 254.6L289.2 255.5M285.5 265.9L286.5 264.1L287.4 265.9M296.9 256.0L297.9 253.7L298.9 256.0M295.6 243.6L296.5 242.1L297.4 243.6M279.8 264.1L280.7 262.6L281.6 264.1M300.2 252.1L301.1 251.4L301.9 252.1M273.6 270.5L274.6 268.6L275.5 270.5M263.2 272.3L264.1 270.1L265.1 272.3M296.1 252.9L297.0 251.4L297.9 252.9M284.2 259.1L285.1 257.8L286.0 259.1M257.3 274.8L258.4 271.4L259.5 274.8M303.2 247.9L304.1 246.3L305.0 247.9M302.5 248.6L303.4 247.6L304.2 248.6M279.3 265.7L280.2 264.8L281.0 265.7M287.7 256.7L288.5 255.9L289.3 256.7M297.8 251.8L298.9 248.7L300.0 251.8M257.8 267.9L258.9 264.3L260.0 267.9M298.5 256.7L299.3 255.8L300.2 256.7M292.1 238.6L292.9 238.1L293.7 238.6M274.4 246.0L275.2 245.1L276.1 246.0M282.1 248.8L282.9 248.3L283.7 248.8" fill="#2436b8"/>
<path d="M293.8 253.7L294.6 252.7L295.5 253.7M277.3 258.5L278.2 257.3L279.1 258.5M292.8 256.5L293.9 253.3L295.0 256.5M277.0 262.0L277.9 260.2L278.9 262.0M295.9 250.2L296.8 249.3L297.6 250.2M312.0 248.5L312.9 246.8L313.8 248.5M284.0 267.3L284.9 266.0L285.8 267.3M293.0 253.7L294.0 251.1L295.0 253.7M277.4 270.1L278.3 268.1L279.3 270.1M276.0 266.6L276.8 265.8L277.6 266.6M267.6 264.5L268.4 263.2L269.3 264.5M301.4 248.8L302.3 247.0L303.2 248.8M277.1 262.9L278.1 259.9L279.2 262.9M260.2 276.7L261.3 273.6L262.3 276.7M270.5 273.6L271.4 272.8L272.2 273.6M299.9 254.3L301.0 251.1L302.0 254.3M309.3 250.4L310.1 249.4L311.0 250.4M282.9 256.8L284.0 254.2L285.0 256.8M292.5 259.0L293.5 256.4L294.5 259.0M309.9 252.1L310.9 250.3L311.8 252.1M270.2 272.3L271.1 270.7L272.0 272.3M286.2 258.6L287.1 257.6L287.9 258.6M312.9 245.4L313.8 244.7L314.6 245.4M291.4 251.2L292.3 250.0L293.2 251.2M279.8 262.0L280.8 259.8L281.7 262.0M296.7 251.8L297.7 250.0L298.6 251.8M256.1 273.8L256.9 273.1L257.7 273.8M296.2 255.6L297.1 254.8L297.9 255.6M289.0 254.9L290.0 251.8L291.1 254.9M299.4 253.5L300.4 251.0L301.4 253.5M292.3 257.4L293.3 255.3L294.2 257.4M273.4 261.6L274.2 260.5L275.1 261.6M285.3 256.1L286.3 253.7L287.3 256.1M298.6 251.1L299.6 248.4L300.7 251.1M273.5 267.0L274.5 264.8L275.5 267.0M285.3 247.3L286.1 246.6L286.9 247.3M291.7 247.8L292.5 247.1L293.3 247.8M295.7 239.9L296.5 239.4L297.3 239.9M298.0 245.1L298.8 244.7L299.6 245.1M243.0 289.3L243.8 288.9L244.5 289.3M242.9 283.2L243.7 282.9L244.5 283.2M255.7 276.4L256.5 276.0L257.3 276.4M239.1 287.7L239.9 287.2L240.7 287.7M252.7 280.4L253.5 279.9L254.3 280.4" fill="#3040cc"/>
<path d="M277.8 261.3L278.7 259.1L279.7 261.3M295.4 255.8L296.2 255.0L297.0 255.8M268.7 268.2L269.6 266.2L270.6 268.2M295.6 257.7L296.5 256.1L297.5 257.7M276.0 272.9L277.0 271.0L277.9 272.9M274.1 268.1L275.0 266.1L276.0 268.1M304.8 247.1L305.7 245.4L306.7 247.1M268.9 271.8L269.8 270.8L270.6 271.8M293.6 248.5L294.4 247.8L295.2 248.5M272.7 268.8L273.5 268.1L274.4 268.8M288.8 262.1L289.7 259.9L290.7 262.1M269.7 262.7L270.6 260.5L271.6 262.7M283.1 258.9L284.1 256.0L285.1 258.9M307.5 249.9L308.3 249.1L309.1 249.9M299.0 254.0L299.9 252.4L300.8 254.0M309.5 243.5L310.4 242.0L311.3 243.5M293.3 256.4L294.3 254.3L295.3 256.4M284.5 259.9L285.5 257.4L286.5 259.9M256.5 274.2L257.4 272.6L258.3 274.2M316.3 242.0L317.4 238.7L318.5 242.0M259.1 275.8L260.0 274.5L260.8 275.8M260.6 272.3L261.6 269.4L262.7 272.3M284.7 258.8L285.6 257.0L286.5 258.8M305.0 249.1L305.9 248.3L306.7 249.1M289.2 257.1L290.1 256.4L290.9 257.1M277.4 260.8L278.4 259.2L279.3 260.8M263.8 273.8L264.6 273.0L265.4 273.8M281.2 246.3L282.0 245.8L282.8 246.3M270.7 244.9L271.5 244.3L272.3 244.9M288.3 243.9L289.2 243.2L290.0 243.9M264.4 278.5L265.1 278.2L265.9 278.5" fill="#4428a8"/>
<path d="M299.2 251.5L300.2 249.5L301.1 251.5M308.3 247.9L309.2 247.1L310.0 247.9M273.3 261.6L274.2 260.0L275.1 261.6M301.1 245.5L302.0 244.8L302.8 245.5M306.8 248.3L307.9 244.9L309.0 248.3M273.3 266.8L274.2 264.9L275.2 266.8M293.6 253.8L294.4 252.7L295.3 253.8M300.5 250.1L301.5 247.4L302.5 250.1M280.0 264.1L280.8 263.3L281.6 264.1M271.3 265.8L272.4 262.3L273.5 265.8M299.4 253.0L300.4 251.1L301.3 253.0M298.1 251.7L299.0 250.8L299.8 251.7M313.4 245.5L314.3 243.9L315.2 245.5M263.7 270.9L264.6 269.6L265.5 270.9M292.0 255.0L293.0 252.2L294.0 255.0M281.4 264.2L282.3 262.6L283.3 264.2M296.3 253.4L297.4 250.3L298.5 253.4M271.7 269.2L272.6 268.4L273.4 269.2M273.8 268.1L274.6 267.2L275.4 268.1M293.7 251.3L294.8 248.4L295.8 251.3M307.8 246.4L308.7 244.3L309.7 246.4M277.5 260.6L278.3 259.5L279.2 260.6M274.8 262.1L275.8 258.9L276.9 262.1M285.0 260.1L286.0 257.0L287.1 260.1M275.0 266.7L275.9 265.7L276.7 266.7M288.7 255.8L289.5 255.1L290.3 255.8M298.4 254.0L299.4 251.9L300.4 254.0M282.7 261.2L283.7 258.7L284.7 261.2M291.7 263.9L292.8 261.1L293.8 263.9M267.9 262.9L268.8 261.2L269.7 262.9M270.8 264.7L271.7 263.3L272.6 264.7M286.9 254.5L287.8 253.2L288.7 254.5M272.6 273.1L273.4 272.3L274.2 273.1M283.2 262.8L284.1 260.9L285.1 262.8M299.3 254.5L300.4 251.7L301.4 254.5M304.7 248.8L305.8 245.6L306.8 248.8M275.0 264.3L275.9 263.3L276.7 264.3M257.0 274.5L257.9 273.5L258.7 274.5M277.3 264.3L278.1 262.9L279.0 264.3M279.1 250.2L279.9 249.6L280.7 250.2M298.1 235.4L298.9 235.0L299.7 235.4M299.8 235.5L300.6 235.1L301.4 235.5M243.0 287.8L243.8 287.2L244.6 287.8M258.6 277.3L259.4 276.7L260.2 277.3M262.4 276.7L263.1 276.4L263.9 276.7M250.6 280.0L251.4 279.8L252.2 280.0" fill="#2850d0"/>
<path d="M278.5 264.5L279.6 261.8L280.6 264.5M303.5 257.7L304.4 256.3L305.3 257.7M264.2 267.6L265.1 266.7L265.9 267.6M284.8 260.2L285.6 259.4L286.4 260.2M291.7 263.2L292.6 261.6L293.5 263.2M286.4 262.0L287.3 260.2L288.2 262.0M305.8 250.0L306.9 246.6L308.0 250.0M317.5 242.4L318.4 241.3L319.2 242.4M288.9 254.2L289.9 251.0L291.0 254.2M271.9 269.2L272.8 267.6L273.7 269.2M301.6 251.1L302.4 250.3L303.3 251.1M292.0 252.4L292.8 251.1L293.7 252.4M273.1 264.5L274.2 261.4L275.2 264.5M296.7 252.4L297.8 249.3L298.9 252.4M299.9 253.6L300.9 250.9L301.9 253.6M307.4 254.5L308.3 253.1L309.2 254.5M303.8 247.9L304.9 244.5L306.0 247.9M282.9 262.1L284.0 258.6L285.1 262.1M288.8 259.3L289.7 258.3L290.6 259.3M273.4 264.4L274.5 260.9L275.6 264.4M292.7 260.8L293.8 258.0L294.8 260.8M312.1 245.2L313.0 243.7L313.9 245.2M301.9 253.5L302.7 252.8L303.5 253.5M283.3 262.9L284.2 261.1L285.1 262.9M292.5 263.4L293.4 261.9L294.3 263.4M259.2 270.2L260.2 267.7L261.2 270.2M280.7 258.3L281.6 256.9L282.5 258.3M287.8 257.2L288.7 255.8L289.6 257.2M284.0 256.1L284.9 255.0L285.7 256.1M280.8 263.1L281.8 260.4L282.8 263.1M276.0 254.3L277.0 251.7L278.0 254.3M284.1 262.4L285.1 260.1L286.1 262.4M267.1 267.6L267.9 266.8L268.8 267.6M261.2 272.8L262.1 271.4L263.0 272.8M274.6 245.8L275.5 244.6L276.4 245.8M305.6 240.4L306.3 239.9L307.1 240.4M307.0 238.9L307.8 238.3L308.6 238.9M280.5 243.6L281.3 243.1L282.1 243.6M270.6 245.5L271.4 245.1L272.2 245.5M256.9 277.3L257.7 276.8L258.5 277.3M243.4 286.3L244.2 285.8L245.0 286.3" fill="#5626a0"/>
<path d="M275.1 261.3L276.1 258.6L277.1 261.3M285.3 257.8L286.2 256.7L287.1 257.8M299.6 253.6L300.4 252.5L301.3 253.6M285.2 261.5L286.1 259.5L287.1 261.5M261.3 273.7L262.2 272.0L263.2 273.7M316.4 242.3L317.5 239.1L318.6 242.3M290.4 253.9L291.3 252.3L292.2 253.9M313.5 249.9L314.5 247.1L315.5 249.9M265.8 260.9L266.7 259.1L267.6 260.9M272.9 268.3L273.8 267.4L274.6 268.3M293.4 251.9L294.3 251.1L295.1 251.9M277.4 261.8L278.5 258.8L279.5 261.8M271.5 264.4L272.4 263.1L273.3 264.4M290.2 258.3L291.2 255.6L292.2 258.3M286.4 256.3L287.4 254.3L288.3 256.3M280.6 262.3L281.5 260.0L282.5 262.3M298.2 253.5L299.0 252.4L299.9 253.5M256.5 274.1L257.3 273.0L258.2 274.1M278.1 260.3L279.0 258.5L279.9 260.3M307.9 247.8L308.7 246.7L309.6 247.8M306.1 245.6L307.0 243.6L307.9 245.6M281.0 268.7L281.8 268.0L282.7 268.7M262.2 275.3L263.0 274.0L263.9 275.3M257.8 270.9L258.7 268.8L259.7 270.9M270.8 266.1L271.9 262.8L273.0 266.1M297.3 252.6L298.4 249.1L299.5 252.6M275.5 259.6L276.4 257.7L277.4 259.6M253.9 272.5L254.8 271.4L255.6 272.5M307.8 244.6L308.8 242.4L309.7 244.6M311.5 249.3L312.4 248.0L313.3 249.3M275.6 262.2L276.7 259.1L277.7 262.2M286.8 259.7L287.7 258.1L288.6 259.7M261.9 273.0L262.7 271.9L263.6 273.0M303.0 250.5L304.0 247.7L305.0 250.5M302.4 245.2L303.2 244.2L304.1 245.2M272.3 264.5L273.4 261.2L274.4 264.5M276.3 248.4L277.0 247.9L277.8 248.4M277.5 246.5L278.3 245.9L279.1 246.5M279.6 245.9L280.5 245.3L281.3 245.9M280.3 251.0L281.2 250.2L282.0 251.0M296.5 246.1L297.3 245.5L298.1 246.1M308.1 238.6L308.9 237.7L309.7 238.6M282.1 240.6L282.9 240.1L283.7 240.6M246.6 281.0L247.4 280.4L248.2 281.0M246.1 281.1L246.8 280.9L247.6 281.1M243.9 287.2L244.7 287.0L245.5 287.2" fill="#1c2c98"/>
<path d="M271.7 264.5L272.4 262.3L273.0 264.5M273.8 263.0L274.5 260.9L275.2 263.0M258.2 266.6L258.9 264.3L259.6 266.6" fill="#b83078"/>
<path d="M283.4 260.8L284.0 258.6L284.7 260.8" fill="#7030c0"/>
<path d="M297.8 251.3L298.4 249.1L299.1 251.3" fill="#9c2c9c"/>
<path d="M295.6 237.5L304.0 240.0" stroke="#4048c8" stroke-width="1.1" opacity="0.85"/>
<linearGradient id="w4" gradientUnits="userSpaceOnUse" x1="325.5" y1="244.6" x2="327.3" y2="248.9"><stop offset="0" stop-color="#a8b050"/><stop offset="0.14" stop-color="#d87850"/><stop offset="0.3" stop-color="#c84c80"/><stop offset="0.6" stop-color="#9c3ca8"/><stop offset="1" stop-color="#5038c0"/></linearGradient>
<polygon points="311.0,256.6 311.5,256.1 311.9,255.7 312.3,254.8 312.7,254.8 313.1,253.5 313.5,253.9 313.9,252.3 314.3,252.9 314.7,251.8 315.1,252.0 315.5,250.4 315.9,250.4 317.5,249.2 319.1,249.9 320.7,246.6 322.3,248.1 323.9,244.5 325.5,246.3 327.1,243.2 328.8,244.5 330.4,240.3 332.0,242.6 333.6,237.0 335.2,238.8 335.2,244.4" fill="url(#w4)"/>
</g>
<g filter="url(#bl)">
<polygon points="204.3,364.5 238.6,391.7 335.2,342.3 335.2,344.1 238.6,393.5 204.3,365.58" fill="#10b4e4"/>
<polygon points="204.3,364.5 238.6,391.7 335.2,342.3 297.4,328.1" fill="url(#cy)"/>
<path d="M204.3 364.5L238.6 391.7L335.2 342.3" fill="none" stroke="#0c78c0" stroke-width="0.7"/>
<path d="M291.8 359.9L292.9 356.8L294.0 359.9M282.9 356.0L283.9 352.7L285.0 356.0M294.1 351.4L294.9 350.4L295.8 351.4M262.1 365.7L263.1 363.7L264.0 365.7M307.7 345.3L308.5 344.5L309.3 345.3M276.5 363.5L277.4 361.7L278.4 363.5M281.5 356.0L282.6 352.9L283.6 356.0M283.7 352.8L284.6 351.0L285.5 352.8M259.6 374.4L260.5 373.1L261.4 374.4M265.0 366.1L265.9 364.5L266.8 366.1M269.3 367.0L270.4 363.7L271.5 367.0M260.5 370.1L261.5 367.7L262.5 370.1M288.5 354.3L289.5 352.1L290.5 354.3M286.4 351.7L287.4 350.1L288.3 351.7M294.6 355.3L295.5 353.1L296.5 355.3M314.9 344.0L315.8 342.5L316.7 344.0M277.6 362.9L278.5 361.6L279.4 362.9M297.0 354.0L298.1 351.3L299.1 354.0M304.2 344.2L305.2 342.0L306.2 344.2M302.2 354.7L303.2 351.7L304.2 354.7M276.1 358.1L277.2 354.5L278.3 358.1M263.7 371.3L264.6 370.6L265.4 371.3M302.5 346.5L303.3 345.1L304.2 346.5M269.9 365.4L270.8 364.2L271.7 365.4M299.9 346.0L300.7 344.8L301.6 346.0M279.3 353.8L280.2 353.0L281.0 353.8M300.5 347.9L301.6 344.8L302.6 347.9M287.5 355.3L288.5 352.7L289.5 355.3M267.9 362.5L268.7 361.7L269.5 362.5M303.9 353.6L304.8 352.8L305.6 353.6M275.4 346.1L276.2 345.1L277.1 346.1M292.6 341.5L293.4 340.5L294.3 341.5M284.3 344.6L285.1 344.1L285.9 344.6M298.6 334.0L299.4 333.6L300.2 334.0M259.5 373.1L260.3 372.8L261.1 373.1M238.2 384.3L239.0 383.9L239.8 384.3M239.7 384.5L240.4 384.2L241.2 384.5" fill="#2436b8"/>
<path d="M298.6 349.7L299.7 346.3L300.8 349.7M290.3 354.6L291.1 353.7L292.0 354.6M277.2 367.3L278.1 366.1L279.0 367.3M291.4 352.1L292.3 350.6L293.2 352.1M279.0 357.7L279.8 356.9L280.6 357.7M304.9 342.1L305.7 341.3L306.5 342.1M265.9 365.7L266.9 363.1L267.9 365.7M261.3 366.5L262.2 365.3L263.1 366.5M262.1 365.0L263.0 364.1L263.8 365.0M296.3 350.1L297.2 348.5L298.1 350.1M274.2 360.1L275.2 357.1L276.3 360.1M269.5 362.9L270.5 360.1L271.5 362.9M290.0 359.4L290.9 358.4L291.7 359.4M276.6 359.2L277.4 358.2L278.3 359.2M259.3 366.5L260.1 365.8L260.9 366.5M270.5 367.5L271.4 365.6L272.4 367.5M257.6 365.1L258.4 363.8L259.3 365.1M286.3 356.2L287.3 354.5L288.2 356.2M299.3 347.5L300.3 344.9L301.3 347.5M308.1 341.3L308.9 340.5L309.7 341.3M277.3 362.9L278.1 362.1L279.0 362.9M253.6 370.5L254.6 368.2L255.6 370.5M310.3 349.6L311.4 346.0L312.5 349.6M271.9 367.2L272.8 365.6L273.7 367.2M267.8 368.3L268.7 367.1L269.6 368.3M273.0 361.6L273.9 360.9L274.7 361.6M287.1 355.7L288.1 353.1L289.1 355.7M301.3 348.1L302.3 344.9L303.4 348.1M294.7 348.4L295.6 347.0L296.5 348.4M271.6 363.1L272.6 360.7L273.6 363.1M283.5 359.7L284.4 358.6L285.2 359.7M265.9 373.6L266.8 372.4L267.7 373.6M298.9 353.4L299.8 351.9L300.7 353.4M281.1 356.3L282.1 353.7L283.1 356.3M309.4 343.7L310.2 342.9L311.0 343.7M286.8 354.1L287.7 352.0L288.7 354.1M283.3 356.9L284.1 356.0L285.0 356.9M273.7 345.0L274.5 344.0L275.4 345.0M296.9 340.4L297.8 339.7L298.6 340.4M294.7 342.7L295.6 342.0L296.4 342.7M304.9 338.5L305.7 337.9L306.5 338.5M291.9 334.7L292.7 334.2L293.5 334.7M282.3 342.9L283.1 342.1L284.0 342.9M300.6 332.3L301.4 331.7L302.3 332.3M276.5 341.4L277.3 341.0L278.1 341.4M293.0 343.4L293.8 342.9L294.6 343.4M308.0 336.0L308.8 335.4L309.6 336.0M245.3 385.3L246.1 384.9L246.9 385.3M239.2 382.4L240.0 381.8L240.8 382.4" fill="#3040cc"/>
<path d="M294.6 348.7L295.7 345.7L296.7 348.7M265.2 367.7L266.3 364.2L267.4 367.7M261.0 367.1L261.8 366.0L262.7 367.1M264.0 366.3L265.0 363.7L266.0 366.3M303.0 347.2L303.9 345.8L304.8 347.2M282.7 360.2L283.5 359.1L284.4 360.2M292.4 352.8L293.5 349.4L294.6 352.8M295.2 352.0L296.3 348.9L297.4 352.0M286.4 358.6L287.4 356.0L288.4 358.6M287.0 355.0L288.1 351.9L289.1 355.0M271.9 366.4L272.8 364.4L273.8 366.4M277.9 359.8L278.9 357.5L279.9 359.8M285.6 360.7L286.5 359.8L287.3 360.7M298.5 348.7L299.4 346.9L300.3 348.7M280.1 354.0L281.1 351.6L282.0 354.0M289.5 350.9L290.4 349.5L291.3 350.9M267.6 366.4L268.4 365.4L269.3 366.4M265.8 357.8L266.9 354.3L268.0 357.8M307.8 351.3L308.6 350.2L309.5 351.3M275.6 357.6L276.4 356.7L277.3 357.6M260.4 371.1L261.2 370.2L262.1 371.1M268.1 362.3L268.9 361.4L269.8 362.3M283.3 365.3L284.2 364.3L285.0 365.3M306.0 347.3L307.0 345.0L308.0 347.3M283.7 353.3L284.7 350.7L285.8 353.3M269.7 365.7L270.7 364.0L271.6 365.7M274.6 359.1L275.5 357.2L276.5 359.1M283.4 359.3L284.3 358.4L285.1 359.3M291.2 353.2L292.1 351.9L293.0 353.2M306.5 346.0L307.5 343.4L308.5 346.0M289.1 355.2L290.0 354.2L290.8 355.2M283.6 358.2L284.5 357.1L285.3 358.2M279.8 362.2L280.6 361.3L281.5 362.2M255.2 371.5L256.2 368.9L257.2 371.5M285.4 361.7L286.3 359.5L287.3 361.7M281.0 354.4L282.0 351.6L283.0 354.4M283.3 348.8L284.1 347.7L285.0 348.8M305.5 336.1L306.3 335.7L307.1 336.1M302.7 333.2L303.5 332.8L304.3 333.2M288.1 338.8L288.9 338.4L289.7 338.8M252.3 376.0L253.1 375.4L253.9 376.0M249.2 381.1L250.0 380.9L250.8 381.1M243.8 381.7L244.6 381.4L245.3 381.7M246.0 382.8L246.8 382.4L247.5 382.8" fill="#4428a8"/>
<path d="M271.4 364.3L272.3 362.7L273.2 364.3M272.9 367.0L274.0 363.7L275.1 367.0M300.7 346.9L301.7 344.5L302.7 346.9M281.6 362.8L282.6 359.6L283.7 362.8M270.3 367.5L271.1 366.6L271.9 367.5M313.3 345.0L314.4 342.3L315.4 345.0M275.2 362.7L276.1 361.0L277.0 362.7M277.0 367.3L278.0 364.6L279.0 367.3M302.1 344.1L302.9 343.4L303.7 344.1M294.6 351.7L295.7 348.4L296.8 351.7M279.6 358.4L280.6 355.5L281.7 358.4M276.8 357.3L277.7 355.7L278.6 357.3M292.3 351.4L293.4 348.7L294.4 351.4M261.7 364.1L262.7 361.9L263.7 364.1M274.1 363.4L275.1 361.0L276.1 363.4M287.0 356.0L288.1 352.7L289.2 356.0M268.8 360.2L269.6 359.4L270.5 360.2M267.5 367.7L268.5 365.0L269.6 367.7M273.9 363.7L275.0 360.6L276.0 363.7M303.0 347.4L304.0 344.7L305.0 347.4M269.9 363.7L270.8 362.4L271.6 363.7M310.6 343.8L311.7 340.7L312.8 343.8M274.6 362.7L275.7 359.9L276.7 362.7M265.2 364.2L266.1 362.8L267.0 364.2M284.8 358.6L285.6 357.3L286.5 358.6M302.3 346.1L303.4 342.5L304.5 346.1M274.3 362.5L275.1 361.5L275.9 362.5M285.4 359.6L286.3 357.7L287.3 359.6M295.6 355.6L296.6 352.3L297.7 355.6M285.8 361.1L286.6 360.3L287.4 361.1M269.3 367.3L270.3 365.3L271.2 367.3M281.8 351.3L282.9 348.5L283.9 351.3M264.5 364.9L265.3 363.5L266.2 364.9M287.9 354.0L288.7 352.9L289.6 354.0M290.2 346.1L291.0 345.7L291.8 346.1M290.8 341.5L291.7 340.7L292.5 341.5M236.2 383.8L237.0 383.4L237.8 383.8M260.8 375.1L261.6 374.6L262.4 375.1" fill="#2850d0"/>
<path d="M284.1 357.5L285.1 355.0L286.1 357.5M313.1 349.8L314.0 349.1L314.8 349.8M292.9 353.0L293.7 351.7L294.6 353.0M276.7 359.0L277.5 357.9L278.4 359.0M270.4 362.1L271.5 359.1L272.5 362.1M288.9 356.1L289.7 355.3L290.6 356.1M257.7 373.2L258.7 371.3L259.6 373.2M266.1 372.0L267.2 368.7L268.3 372.0M287.2 356.2L288.3 353.3L289.3 356.2M284.0 357.9L284.9 356.7L285.7 357.9M271.3 361.8L272.1 360.6L273.0 361.8M273.9 362.9L274.8 361.9L275.6 362.9M274.6 360.0L275.5 358.8L276.4 360.0M287.7 356.8L288.6 355.6L289.4 356.8M274.7 362.4L275.6 360.7L276.6 362.4M288.5 353.8L289.3 352.9L290.2 353.8M284.6 356.5L285.5 355.1L286.4 356.5M266.5 367.7L267.4 365.7L268.4 367.7M267.7 364.0L268.5 363.3L269.3 364.0M265.2 371.9L266.1 370.5L267.0 371.9M275.4 359.8L276.4 357.8L277.3 359.8M269.5 368.5L270.5 365.7L271.5 368.5M283.7 356.6L284.5 355.8L285.3 356.6M283.4 356.6L284.3 355.5L285.1 356.6M294.9 353.4L295.7 352.5L296.6 353.4M286.9 353.5L287.7 352.8L288.6 353.5M286.6 357.0L287.7 353.4L288.8 357.0M267.3 371.6L268.3 369.5L269.2 371.6M295.3 349.8L296.1 348.9L297.0 349.8M281.6 355.0L282.7 351.9L283.8 355.0M276.2 358.5L277.2 355.4L278.3 358.5M310.9 345.4L311.8 343.9L312.7 345.4M283.3 354.9L284.4 351.5L285.5 354.9M267.4 368.6L268.3 366.6L269.3 368.6M260.9 370.4L261.8 369.5L262.6 370.4M288.4 354.5L289.3 353.1L290.2 354.5M292.0 351.2L292.9 350.3L293.7 351.2M274.4 363.8L275.5 360.7L276.5 363.8M279.1 362.5L280.1 359.6L281.2 362.5M288.8 356.4L289.8 353.2L290.9 356.4M284.3 338.9L285.1 338.5L285.9 338.9M259.2 372.7L260.0 372.1L260.8 372.7" fill="#5626a0"/>
<path d="M277.5 361.8L278.4 359.9L279.4 361.8M273.1 360.8L274.0 359.4L274.9 360.8M291.0 354.6L292.0 351.6L293.1 354.6M269.0 364.2L270.1 361.1L271.1 364.2M274.4 361.0L275.4 358.7L276.3 361.0M296.4 355.1L297.6 351.5L298.7 355.1M300.0 348.5L300.9 346.7L301.8 348.5M284.1 359.4L285.2 356.0L286.3 359.4M295.2 347.8L296.0 346.6L296.9 347.8M262.3 376.3L263.2 374.9L264.1 376.3M277.6 359.8L278.5 359.0L279.3 359.8M290.0 360.3L291.1 357.0L292.2 360.3M281.1 356.9L281.9 355.6L282.8 356.9M299.8 352.4L300.6 351.7L301.5 352.4M267.4 373.8L268.4 370.7L269.5 373.8M260.4 371.0L261.4 368.7L262.4 371.0M281.9 366.0L282.9 363.4L284.0 366.0M261.0 372.1L261.9 370.8L262.8 372.1M267.0 365.1L267.8 364.2L268.7 365.1M265.4 363.5L266.5 360.6L267.5 363.5M312.0 342.8L312.8 341.5L313.7 342.8M288.0 353.0L289.0 351.2L289.9 353.0M288.2 360.5L289.1 359.0L290.0 360.5M300.7 345.9L301.5 345.2L302.4 345.9M262.2 363.8L263.1 362.4L263.9 363.8M294.6 352.6L295.5 350.8L296.4 352.6M288.4 354.6L289.4 352.3L290.4 354.6M255.7 367.9L256.8 364.9L257.8 367.9M295.2 354.8L296.3 351.7L297.3 354.8M301.3 349.7L302.3 346.8L303.4 349.7M279.9 361.7L280.9 358.6L282.0 361.7M287.9 358.5L288.8 357.0L289.7 358.5M299.3 346.4L300.1 345.6L300.9 346.4M307.5 336.7L308.3 336.2L309.1 336.7M279.9 347.8L280.7 347.3L281.5 347.8M295.6 333.0L296.4 332.5L297.2 333.0M288.6 342.1L289.5 341.2L290.3 342.1M240.8 382.5L241.6 382.2L242.4 382.5M241.4 386.6L242.2 386.3L243.0 386.6M240.1 383.4L240.9 382.9L241.7 383.4" fill="#1c2c98"/>
<path d="M310.7 348.2L311.4 346.0L312.1 348.2M283.7 353.6L284.4 351.5L285.1 353.6" fill="#a82890"/>
<path d="M265.7 366.3L266.3 364.2L267.0 366.3" fill="#b83078"/>
<path d="M276.5 356.7L277.2 354.5L277.9 356.7" fill="#8a2cb0"/>
<path d="M287.0 355.7L287.7 353.4L288.4 355.7" fill="#c83c60"/>
<path d="M302.7 344.7L303.4 342.5L304.1 344.7" fill="#7030c0"/>
<path d="M296.9 353.8L297.6 351.5L298.2 353.8M266.2 356.5L266.9 354.3L267.6 356.5" fill="#9c2c9c"/>
<path d="M288.8 335.1L301.0 339.5" stroke="#3848d0" stroke-width="1.0" opacity="0.85"/>
<path d="M296.5 332.9L306.8 336.3" stroke="#4840c0" stroke-width="1.1" opacity="0.85"/>
<linearGradient id="w5" gradientUnits="userSpaceOnUse" x1="325.1" y1="342.9" x2="326.8" y2="347.1"><stop offset="0" stop-color="#a8b050"/><stop offset="0.14" stop-color="#d87850"/><stop offset="0.3" stop-color="#c84c80"/><stop offset="0.6" stop-color="#9c3ca8"/><stop offset="1" stop-color="#5038c0"/></linearGradient>
<polygon points="310.1,355.1 310.5,354.6 310.9,354.2 311.3,353.4 311.7,353.3 312.1,352.3 312.5,352.4 312.9,351.4 313.3,351.5 313.7,349.6 314.1,350.6 314.5,348.9 314.9,348.9 316.6,346.5 318.3,348.3 320.0,343.8 321.7,346.4 323.4,341.8 325.1,344.5 326.7,340.9 328.4,342.6 330.1,339.5 331.8,340.7 333.5,334.8 335.2,336.9 335.2,342.3" fill="url(#w5)"/>
</g>
<text class="ser" font-size="13.5" fill="#f4f4f4" x="190" y="28.5">1<tspan font-size="8.6" x="196.6" dy="-4.1">st</tspan><tspan dy="4.1" x="205.9">Layer</tspan></text>
<text class="ser" font-size="13.5" fill="#f4f4f4" x="191" y="123.3">2<tspan font-size="8.6" x="198.2" dy="-4.1">nd</tspan><tspan dy="4.1" x="209.7">Layer</tspan></text>
<text class="ser" font-size="13.5" fill="#f4f4f4" x="189.6" y="221.8">3<tspan font-size="8.6" x="196.3" dy="-4.1">rd</tspan><tspan dy="4.1" x="207.1">Layer</tspan></text>
<text class="ser" font-size="13.5" fill="#f4f4f4" x="189.3" y="319.6">4<tspan font-size="8.6" x="196.3" dy="-4.1">th</tspan><tspan dy="4.1" x="205.9">Layer</tspan></text>
<text class="ser" font-size="13.5" fill="#f4f4f4" x="11" y="125.4">Zero</text>
<text class="ser" font-size="13.5" fill="#f4f4f4" x="11" y="141.6">Layer</text>
</svg></body></html>
